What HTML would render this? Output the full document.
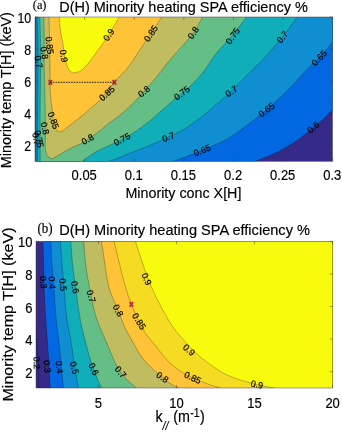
<!DOCTYPE html>
<html><head><meta charset="utf-8"><title>D(H) Minority heating SPA efficiency</title>
<style>html,body{margin:0;padding:0;background:#fff}svg{display:block}text{fill:#000;stroke:#000;stroke-width:0.16px}</style></head>
<body>
<svg width="342" height="432" viewBox="0 0 342 432">
<defs>
<clipPath id="ca"><rect x="35.0" y="17.0" width="297.7" height="144.5"/></clipPath>
<clipPath id="cb"><rect x="36.0" y="241.3" width="296.6" height="146.7"/></clipPath>
</defs>
<rect width="342" height="432" fill="#fff"/>
<g clip-path="url(#ca)">
<rect x="35.0" y="17.0" width="297.7" height="144.5" fill="rgb(53,42,135)"/>
<polygon points="35.0,17.0 332.7,17.0 332.7,109.5 331.9,110.4 331.1,111.3 330.2,112.1 329.4,113.0 328.6,113.9 327.7,114.8 326.9,115.6 326.0,116.5 325.2,117.3 324.3,118.2 323.4,119.0 322.5,119.8 321.6,120.6 320.7,121.4 319.8,122.2 318.9,123.0 317.9,123.7 317.0,124.5 316.1,125.3 315.1,126.0 314.2,126.8 313.3,127.5 312.3,128.3 311.4,129.1 310.5,129.9 309.5,130.6 308.6,131.4 307.7,132.2 306.8,132.9 305.8,133.7 304.9,134.5 304.0,135.2 303.0,136.0 302.1,136.7 301.1,137.5 300.1,138.2 299.2,138.9 298.2,139.6 297.2,140.3 296.2,141.0 295.2,141.7 294.2,142.4 293.2,143.0 292.2,143.7 291.2,144.3 290.1,145.0 289.1,145.6 288.1,146.2 287.0,146.8 286.0,147.4 284.9,148.0 283.9,148.6 282.8,149.2 281.8,149.8 280.7,150.4 279.6,150.9 278.6,151.5 277.5,152.0 276.4,152.5 275.3,153.1 274.2,153.6 273.1,154.1 272.0,154.6 270.9,155.1 269.8,155.5 268.7,156.0 267.6,156.5 266.5,156.9 265.3,157.4 264.2,157.8 263.1,158.2 262.0,158.7 260.8,159.1 259.7,159.5 258.6,159.9 257.4,160.3 256.3,160.7 255.1,161.1 254.0,161.5 35.0,161.5" fill="rgb(2,104,225)"/>
<polygon points="35.8,17.0 332.7,17.0 332.7,42.0 331.7,43.2 330.7,44.3 329.8,45.5 328.8,46.6 327.8,47.8 326.8,49.0 325.9,50.1 324.9,51.3 324.0,52.5 323.1,53.7 322.1,54.9 321.1,56.0 320.1,57.2 319.1,58.3 318.1,59.4 317.0,60.4 315.9,61.5 314.7,62.5 313.6,63.5 312.4,64.5 311.3,65.5 310.2,66.5 309.0,67.5 307.9,68.5 306.9,69.6 305.8,70.7 304.7,71.7 303.7,72.9 302.7,74.0 301.6,75.1 300.6,76.2 299.6,77.3 298.6,78.5 297.6,79.6 296.6,80.7 295.6,81.9 294.6,83.0 293.5,84.1 292.5,85.2 291.4,86.3 290.4,87.4 289.3,88.5 288.2,89.5 287.2,90.6 286.1,91.7 285.0,92.7 283.9,93.8 282.8,94.8 281.7,95.9 280.6,96.9 279.5,98.0 278.4,99.0 277.3,100.1 276.2,101.1 275.1,102.1 274.0,103.2 272.9,104.2 271.8,105.2 270.6,106.2 269.5,107.2 268.4,108.2 267.2,109.2 266.0,110.2 264.9,111.1 263.7,112.1 262.6,113.1 261.4,114.0 260.2,115.0 259.0,115.9 257.8,116.9 256.6,117.8 255.4,118.7 254.2,119.7 253.0,120.6 251.9,121.5 250.6,122.4 249.4,123.4 248.2,124.3 247.0,125.2 245.8,126.1 244.6,127.0 243.4,127.9 242.2,128.8 240.9,129.7 239.7,130.6 238.5,131.5 237.2,132.4 236.0,133.2 234.8,134.1 233.5,134.9 232.2,135.8 230.9,136.6 229.7,137.4 228.4,138.2 227.1,138.9 225.7,139.7 224.4,140.4 223.1,141.1 221.7,141.8 220.4,142.5 219.0,143.1 217.6,143.8 216.2,144.4 214.9,145.1 213.5,145.7 212.1,146.3 210.7,146.9 209.3,147.5 207.9,148.1 206.5,148.7 205.1,149.3 203.7,149.9 202.3,150.4 200.9,151.0 199.5,151.6 198.1,152.1 196.7,152.7 195.3,153.2 193.9,153.7 192.4,154.3 191.0,154.8 189.6,155.3 188.2,155.8 186.8,156.4 185.3,156.9 183.9,157.4 182.5,157.9 181.1,158.4 179.6,158.9 178.2,159.5 176.8,160.0 175.4,160.5 173.9,161.0 172.5,161.5 35.8,161.5" fill="rgb(16,142,210)"/>
<polygon points="297.5,17.0 296.6,18.2 295.7,19.4 294.8,20.6 293.9,21.8 293.0,23.0 292.1,24.2 291.2,25.4 290.3,26.7 289.4,27.9 288.5,29.1 287.6,30.3 286.7,31.5 285.8,32.7 284.9,33.9 283.9,35.1 283.0,36.3 282.1,37.5 281.1,38.7 280.1,39.8 279.2,41.0 278.2,42.1 277.2,43.3 276.2,44.4 275.3,45.6 274.3,46.7 273.3,47.9 272.3,49.0 271.3,50.1 270.3,51.3 269.3,52.4 268.3,53.5 267.3,54.6 266.3,55.8 265.2,56.9 264.2,58.0 263.2,59.1 262.1,60.1 261.0,61.2 260.0,62.3 258.9,63.4 257.8,64.4 256.8,65.5 255.7,66.5 254.6,67.6 253.5,68.6 252.4,69.7 251.4,70.8 250.3,71.8 249.2,72.9 248.1,73.9 247.0,75.0 246.0,76.0 244.9,77.1 243.8,78.2 242.8,79.2 241.7,80.3 240.6,81.4 239.6,82.5 238.6,83.6 237.5,84.6 236.5,85.8 235.4,86.9 234.4,88.0 233.4,89.1 232.3,90.1 231.3,91.2 230.2,92.3 229.1,93.3 228.0,94.3 226.9,95.4 225.8,96.4 224.6,97.3 223.5,98.3 222.3,99.3 221.2,100.3 220.0,101.3 218.9,102.3 217.7,103.2 216.6,104.2 215.4,105.2 214.3,106.2 213.2,107.2 212.0,108.2 210.9,109.2 209.8,110.2 208.6,111.2 207.5,112.1 206.3,113.1 205.1,114.1 204.0,115.0 202.8,116.0 201.6,116.9 200.4,117.8 199.2,118.7 198.0,119.6 196.8,120.5 195.5,121.4 194.3,122.3 193.1,123.2 191.9,124.0 190.6,124.9 189.4,125.8 188.1,126.6 186.9,127.4 185.6,128.2 184.3,129.0 183.0,129.8 181.7,130.5 180.4,131.3 179.0,132.0 177.7,132.7 176.3,133.3 175.0,134.0 173.6,134.6 172.3,135.3 170.9,135.9 169.5,136.6 168.2,137.2 166.8,137.9 165.4,138.5 164.1,139.2 162.7,139.8 161.3,140.4 160.0,141.1 158.6,141.7 157.2,142.3 155.8,142.9 154.4,143.5 153.0,144.1 151.6,144.6 150.2,145.2 148.8,145.8 147.4,146.4 146.0,146.9 144.6,147.5 143.2,148.1 141.8,148.6 140.4,149.2 139.0,149.7 137.6,150.3 136.2,150.8 134.8,151.3 133.4,151.9 132.0,152.4 130.6,153.0 129.2,153.5 127.8,154.1 126.4,154.6 125.0,155.2 123.6,155.8 122.2,156.4 120.8,157.0 119.4,157.5 118.0,158.1 116.6,158.7 115.2,159.2 113.8,159.7 112.3,160.1 110.9,160.6 109.4,161.1 108.0,161.5 37.7,161.5 37.7,160.0 37.7,158.5 37.7,156.9 37.7,155.4 37.7,153.9 37.6,152.4 37.6,150.9 37.6,149.3 37.6,147.8 37.6,146.3 37.6,144.8 37.6,143.2 37.6,141.7 37.6,140.2 37.6,138.7 37.6,137.2 37.6,135.6 37.6,134.1 37.6,132.6 37.6,131.1 37.6,129.6 37.6,128.0 37.6,126.5 37.6,125.0 37.6,123.5 37.6,121.9 37.6,120.4 37.6,118.9 37.6,117.4 37.6,115.9 37.6,114.3 37.6,112.8 37.6,111.3 37.6,109.8 37.6,108.3 37.6,106.7 37.6,105.2 37.7,103.7 37.7,102.2 37.7,100.6 37.7,99.1 37.7,97.6 37.8,96.1 37.8,94.6 37.8,93.0 37.8,91.5 37.8,90.0 37.9,88.5 37.9,87.0 37.9,85.4 37.9,83.9 38.0,82.4 38.0,80.9 38.0,79.3 38.0,77.8 38.1,76.3 38.1,74.8 38.1,73.3 38.1,71.7 38.1,70.2 38.2,68.7 38.2,67.2 38.2,65.7 38.2,64.1 38.2,62.6 38.2,61.1 38.2,59.6 38.2,58.0 38.2,56.5 38.2,55.0 38.2,53.5 38.2,52.0 38.2,50.4 38.2,48.9 38.1,47.4 38.1,45.9 38.1,44.4 38.0,42.8 38.0,41.3 38.0,39.8 37.9,38.3 37.9,36.8 37.8,35.2 37.8,33.7 37.7,32.2 37.6,30.7 37.6,29.2 37.5,27.6 37.4,26.1 37.4,24.6 37.3,23.1 37.2,21.6 37.1,20.0 37.1,18.5 37.0,17.0" fill="rgb(15,174,185)"/>
<polygon points="246.7,17.0 245.7,18.2 244.8,19.4 243.9,20.6 242.9,21.7 242.0,22.9 241.0,24.1 240.1,25.3 239.2,26.6 238.3,27.8 237.4,29.0 236.5,30.2 235.6,31.4 234.6,32.6 233.7,33.8 232.7,35.0 231.7,36.1 230.7,37.2 229.7,38.4 228.7,39.5 227.6,40.6 226.6,41.7 225.6,42.8 224.5,44.0 223.5,45.1 222.5,46.2 221.4,47.3 220.4,48.5 219.4,49.6 218.4,50.8 217.5,51.9 216.5,53.1 215.6,54.3 214.6,55.5 213.7,56.7 212.8,57.9 212.0,59.2 211.1,60.4 210.3,61.7 209.4,62.9 208.6,64.2 207.7,65.5 206.9,66.7 206.0,68.0 205.1,69.2 204.2,70.4 203.3,71.7 202.4,72.9 201.4,74.1 200.5,75.2 199.5,76.4 198.5,77.6 197.5,78.7 196.5,79.8 195.4,80.9 194.4,82.0 193.3,83.1 192.2,84.2 191.1,85.3 190.0,86.3 188.9,87.3 187.7,88.3 186.6,89.3 185.4,90.3 184.3,91.3 183.1,92.2 181.9,93.2 180.7,94.1 179.6,95.1 178.4,96.1 177.2,97.0 176.1,98.0 174.9,99.0 173.7,100.0 172.6,101.0 171.4,102.0 170.3,103.0 169.1,103.9 168.0,104.9 166.9,105.9 165.7,107.0 164.6,108.0 163.4,109.0 162.3,110.0 161.2,111.0 160.0,112.0 158.9,113.0 157.7,114.0 156.6,115.0 155.5,116.0 154.3,117.0 153.2,118.0 152.0,119.0 150.9,120.0 149.7,120.9 148.5,121.9 147.3,122.8 146.1,123.8 145.0,124.7 143.7,125.6 142.5,126.6 141.3,127.5 140.1,128.3 138.8,129.2 137.6,130.1 136.3,130.9 135.1,131.8 133.8,132.6 132.5,133.4 131.2,134.2 129.9,135.0 128.6,135.8 127.3,136.5 126.0,137.3 124.6,138.0 123.3,138.8 122.0,139.5 120.6,140.2 119.3,140.9 117.9,141.5 116.5,142.2 115.2,142.8 113.8,143.5 112.4,144.1 111.0,144.7 109.6,145.4 108.2,146.0 106.9,146.6 105.5,147.2 104.1,147.8 102.7,148.4 101.3,149.1 99.9,149.7 98.6,150.4 97.2,151.1 95.9,151.8 94.6,152.6 93.3,153.4 92.0,154.2 90.7,155.0 89.5,155.9 88.2,156.8 87.0,157.7 85.8,158.6 84.7,159.6 83.5,160.5 82.3,161.5 40.2,161.5 40.2,160.0 40.2,158.5 40.2,156.9 40.2,155.4 40.2,153.9 40.2,152.4 40.2,150.9 40.1,149.3 40.1,147.8 40.1,146.3 40.1,144.8 40.1,143.2 40.1,141.7 40.1,140.2 40.1,138.7 40.1,137.2 40.1,135.6 40.1,134.1 40.1,132.6 40.1,131.1 40.1,129.6 40.1,128.0 40.1,126.5 40.1,125.0 40.1,123.5 40.1,122.0 40.1,120.4 40.1,118.9 40.1,117.4 40.1,115.9 40.1,114.3 40.1,112.8 40.1,111.3 40.1,109.8 40.1,108.3 40.1,106.7 40.2,105.2 40.2,103.7 40.2,102.2 40.2,100.7 40.2,99.1 40.2,97.6 40.2,96.1 40.3,94.6 40.3,93.0 40.3,91.5 40.3,90.0 40.3,88.5 40.4,87.0 40.4,85.4 40.4,83.9 40.4,82.4 40.4,80.9 40.5,79.4 40.5,77.8 40.5,76.3 40.5,74.8 40.5,73.3 40.5,71.7 40.6,70.2 40.6,68.7 40.6,67.2 40.6,65.7 40.6,64.1 40.6,62.6 40.6,61.1 40.6,59.6 40.6,58.1 40.6,56.5 40.6,55.0 40.6,53.5 40.6,52.0 40.6,50.5 40.6,48.9 40.6,47.4 40.6,45.9 40.6,44.4 40.5,42.8 40.5,41.3 40.5,39.8 40.4,38.3 40.4,36.8 40.4,35.2 40.3,33.7 40.3,32.2 40.3,30.7 40.2,29.2 40.2,27.6 40.1,26.1 40.1,24.6 40.0,23.1 40.0,21.6 39.9,20.0 39.9,18.5 39.8,17.0" fill="rgb(101,190,134)"/>
<polygon points="202.7,17.0 202.0,18.3 201.3,19.7 200.6,21.0 199.8,22.4 199.1,23.7 198.4,25.0 197.6,26.4 196.8,27.7 196.0,29.0 195.2,30.2 194.4,31.5 193.5,32.8 192.6,34.0 191.7,35.2 190.8,36.4 189.8,37.6 188.8,38.7 187.8,39.9 186.8,41.0 185.8,42.2 184.8,43.3 183.8,44.4 182.8,45.6 181.8,46.7 180.7,47.8 179.7,48.9 178.7,50.1 177.7,51.2 176.6,52.3 175.6,53.4 174.6,54.6 173.6,55.7 172.6,56.9 171.6,58.0 170.7,59.2 169.7,60.4 168.7,61.6 167.8,62.7 166.9,63.9 165.9,65.1 165.0,66.3 164.1,67.5 163.1,68.7 162.2,69.9 161.2,71.1 160.3,72.3 159.3,73.5 158.4,74.7 157.4,75.8 156.5,77.0 155.5,78.2 154.5,79.3 153.5,80.5 152.6,81.7 151.6,82.8 150.6,84.0 149.6,85.1 148.6,86.3 147.6,87.4 146.6,88.6 145.6,89.7 144.6,90.9 143.6,92.0 142.5,93.1 141.5,94.3 140.5,95.4 139.5,96.5 138.4,97.6 137.4,98.8 136.3,99.9 135.3,101.0 134.2,102.1 133.2,103.2 132.1,104.2 131.0,105.3 129.9,106.4 128.8,107.4 127.7,108.5 126.6,109.5 125.5,110.5 124.3,111.5 123.2,112.5 122.0,113.5 120.8,114.4 119.6,115.4 118.4,116.3 117.2,117.2 116.0,118.1 114.8,119.0 113.5,119.9 112.3,120.8 111.1,121.7 109.8,122.6 108.6,123.5 107.5,124.5 106.3,125.4 105.1,126.4 103.9,127.3 102.7,128.3 101.6,129.3 100.4,130.2 99.2,131.1 98.0,132.1 96.8,133.0 95.5,133.9 94.3,134.8 93.1,135.7 91.8,136.5 90.6,137.4 89.4,138.3 88.1,139.2 86.9,140.1 85.6,140.9 84.4,141.8 83.1,142.6 81.7,143.3 80.4,144.0 79.0,144.6 77.6,145.2 76.2,145.8 74.8,146.4 73.4,147.0 72.0,147.7 70.7,148.3 69.3,149.0 68.0,149.7 66.6,150.4 65.3,151.2 64.0,151.9 62.7,152.7 61.4,153.5 60.1,154.3 58.8,155.1 57.5,155.9 56.2,156.7 54.8,157.4 53.5,158.1 52.1,158.7 52.1,158.7 50.6,158.2 49.2,157.6 48.1,156.6 47.1,155.4 46.4,154.0 46.0,152.6 45.6,151.1 45.4,149.6 45.3,148.1 45.2,146.6 45.2,145.0 45.3,143.5 45.3,142.0 45.4,140.4 45.4,138.9 45.5,137.4 45.5,135.8 45.5,134.3 45.5,132.8 45.4,131.3 45.4,129.8 45.4,128.2 45.4,126.7 45.4,125.2 45.4,123.7 45.3,122.1 45.3,120.6 45.3,119.1 45.3,117.6 45.3,116.0 45.3,114.5 45.3,113.0 45.2,111.5 45.2,109.9 45.2,108.4 45.2,106.9 45.2,105.4 45.1,103.8 45.1,102.3 45.0,100.8 45.0,99.3 45.0,97.8 44.9,96.2 44.9,94.7 44.8,93.2 44.8,91.7 44.7,90.1 44.7,88.6 44.7,87.1 44.6,85.6 44.6,84.0 44.5,82.5 44.5,81.0 44.5,79.5 44.4,78.0 44.4,76.4 44.4,74.9 44.3,73.4 44.3,71.9 44.3,70.3 44.2,68.8 44.2,67.3 44.2,65.8 44.2,64.2 44.2,62.7 44.2,61.2 44.2,59.7 44.2,58.1 44.2,56.6 44.2,55.1 44.2,53.6 44.3,52.0 44.3,50.5 44.3,49.0 44.3,47.5 44.3,45.9 44.3,44.4 44.3,42.9 44.3,41.4 44.3,39.9 44.3,38.3 44.2,36.8 44.2,35.3 44.2,33.8 44.1,32.2 44.1,30.7 44.1,29.2 44.0,27.7 44.0,26.1 43.9,24.6 43.8,23.1 43.8,21.6 43.7,20.0 43.7,18.5 43.6,17.0" fill="rgb(192,188,96)"/>
<polygon points="161.6,17.0 160.8,18.3 160.0,19.6 159.2,20.8 158.4,22.1 157.6,23.4 156.8,24.7 156.0,25.9 155.2,27.2 154.4,28.5 153.6,29.7 152.7,31.0 151.9,32.3 151.1,33.5 150.2,34.7 149.4,36.0 148.5,37.2 147.6,38.5 146.8,39.7 145.9,40.9 145.0,42.2 144.2,43.4 143.3,44.6 142.5,45.9 141.6,47.1 140.8,48.3 139.9,49.6 139.1,50.9 138.3,52.1 137.5,53.4 136.6,54.7 135.8,56.0 135.0,57.2 134.2,58.5 133.4,59.8 132.6,61.0 131.7,62.3 130.9,63.5 130.0,64.7 129.1,66.0 128.2,67.1 127.2,68.3 126.3,69.4 125.3,70.6 124.3,71.7 123.2,72.8 122.2,73.9 121.1,75.0 120.1,76.0 119.0,77.1 118.0,78.2 117.0,79.3 115.9,80.4 114.9,81.5 114.0,82.7 113.0,83.9 112.1,85.1 111.2,86.3 110.3,87.5 109.4,88.7 108.5,89.9 107.6,91.1 106.7,92.3 105.7,93.5 104.8,94.7 103.8,95.8 102.9,97.0 101.8,98.1 100.8,99.2 99.8,100.2 98.7,101.3 97.6,102.3 96.4,103.3 95.3,104.3 94.2,105.3 93.0,106.3 91.9,107.2 90.7,108.2 89.6,109.2 88.5,110.2 87.3,111.2 86.2,112.2 85.1,113.2 83.9,114.2 82.8,115.2 81.6,116.1 80.5,117.1 79.3,118.0 78.1,118.9 76.9,119.9 75.7,120.8 74.5,121.7 73.3,122.6 72.1,123.6 71.0,124.5 69.8,125.4 68.6,126.4 67.4,127.3 66.3,128.3 65.1,129.2 63.9,130.2 62.6,130.9 61.2,131.5 59.8,132.0 59.8,132.0 58.3,131.4 57.1,130.6 56.2,129.4 55.5,128.0 54.9,126.5 54.4,125.1 54.0,123.6 53.6,122.2 53.3,120.7 53.1,119.2 52.9,117.7 52.8,116.1 52.7,114.6 52.6,113.1 52.4,111.6 52.3,110.0 52.1,108.5 51.9,107.0 51.7,105.5 51.5,104.0 51.3,102.4 51.1,100.9 50.9,99.4 50.8,97.9 50.6,96.4 50.5,94.9 50.4,93.3 50.4,91.8 50.3,90.3 50.2,88.8 50.2,87.2 50.2,85.7 50.1,84.2 50.1,82.6 50.1,81.1 50.1,79.6 50.0,78.1 50.0,76.5 50.0,75.0 50.0,73.5 50.0,71.9 50.0,70.4 49.9,68.9 49.9,67.4 49.9,65.8 49.9,64.3 49.9,62.8 49.9,61.3 49.8,59.7 49.8,58.2 49.8,56.7 49.8,55.2 49.8,53.6 49.8,52.1 49.7,50.6 49.7,49.1 49.7,47.5 49.7,46.0 49.7,44.5 49.6,42.9 49.6,41.4 49.6,39.9 49.5,38.4 49.5,36.8 49.5,35.3 49.4,33.8 49.4,32.3 49.4,30.7 49.3,29.2 49.3,27.7 49.3,26.2 49.2,24.6 49.2,23.1 49.1,21.6 49.1,20.1 49.0,18.5 49.0,17.0" fill="rgb(255,195,55)"/>
<polygon points="118.9,17.0 118.5,17.7 118.2,18.4 117.8,19.1 117.4,19.7 117.1,20.4 116.7,21.1 116.3,21.8 116.0,22.5 115.6,23.2 115.2,23.8 114.8,24.5 114.5,25.2 114.1,25.9 113.7,26.5 113.3,27.2 112.9,27.9 112.5,28.5 112.1,29.2 111.7,29.9 111.3,30.5 110.9,31.2 110.5,31.8 110.0,32.5 109.6,33.2 109.2,33.8 108.8,34.5 108.4,35.1 108.0,35.8 107.6,36.5 107.2,37.1 106.7,37.8 106.3,38.4 105.9,39.1 105.5,39.7 105.0,40.4 104.6,41.0 104.2,41.7 103.7,42.3 103.3,42.9 102.8,43.5 102.3,44.2 101.9,44.8 101.4,45.4 101.0,46.0 100.5,46.7 100.0,47.3 99.6,47.9 99.1,48.5 98.7,49.2 98.2,49.8 97.7,50.4 97.3,51.1 96.8,51.7 96.4,52.3 95.9,52.9 95.5,53.6 95.0,54.2 94.6,54.8 94.1,55.5 93.6,56.1 93.2,56.7 92.7,57.4 92.3,58.0 91.8,58.6 91.4,59.2 90.9,59.9 90.4,60.5 90.0,61.1 89.5,61.7 89.0,62.3 88.5,62.9 88.1,63.5 87.6,64.1 87.1,64.7 86.5,65.3 86.0,65.9 85.5,66.5 85.0,67.0 84.4,67.6 83.9,68.1 83.3,68.7 82.7,69.2 82.1,69.7 81.5,70.2 80.9,70.6 80.2,71.0 79.5,71.4 78.8,71.7 78.1,72.0 77.3,72.2 76.6,72.4 75.8,72.6 75.0,72.7 74.3,72.8 73.5,72.9 73.5,72.9 72.6,72.6 71.7,72.2 70.9,71.8 70.2,71.2 69.5,70.5 69.0,69.7 68.5,68.9 68.1,68.0 67.7,67.2 67.3,66.3 67.0,65.4 66.7,64.5 66.4,63.6 66.2,62.7 65.9,61.8 65.7,60.9 65.5,59.9 65.3,59.0 65.1,58.1 64.9,57.2 64.7,56.3 64.5,55.3 64.4,54.4 64.2,53.5 64.1,52.5 63.9,51.6 63.8,50.7 63.7,49.7 63.6,48.8 63.4,47.8 63.3,46.9 63.2,46.0 63.1,45.0 62.9,44.1 62.8,43.2 62.7,42.2 62.5,41.3 62.4,40.4 62.2,39.4 62.0,38.5 61.8,37.6 61.7,36.7 61.5,35.7 61.3,34.8 61.1,33.9 60.9,33.0 60.7,32.0 60.6,31.1 60.4,30.2 60.3,29.2 60.2,28.3 60.1,27.4 60.0,26.4 59.9,25.5 59.8,24.6 59.8,23.6 59.7,22.7 59.7,21.7 59.6,20.8 59.6,19.8 59.6,18.9 59.5,17.9 59.5,17.0" fill="rgb(249,251,14)"/>
<polyline points="332.7,109.5 331.9,110.4 331.1,111.3 330.2,112.1 329.4,113.0 328.6,113.9 327.7,114.8 326.9,115.6 326.0,116.5 325.2,117.3 324.3,118.2 323.4,119.0 322.5,119.8 321.6,120.6 320.7,121.4 319.8,122.2 318.9,123.0 317.9,123.7 317.0,124.5 316.1,125.3 315.1,126.0 314.2,126.8 313.3,127.5 312.3,128.3 311.4,129.1 310.5,129.9 309.5,130.6 308.6,131.4 307.7,132.2 306.8,132.9 305.8,133.7 304.9,134.5 304.0,135.2 303.0,136.0 302.1,136.7 301.1,137.5 300.1,138.2 299.2,138.9 298.2,139.6 297.2,140.3 296.2,141.0 295.2,141.7 294.2,142.4 293.2,143.0 292.2,143.7 291.2,144.3 290.1,145.0 289.1,145.6 288.1,146.2 287.0,146.8 286.0,147.4 284.9,148.0 283.9,148.6 282.8,149.2 281.8,149.8 280.7,150.4 279.6,150.9 278.6,151.5 277.5,152.0 276.4,152.5 275.3,153.1 274.2,153.6 273.1,154.1 272.0,154.6 270.9,155.1 269.8,155.5 268.7,156.0 267.6,156.5 266.5,156.9 265.3,157.4 264.2,157.8 263.1,158.2 262.0,158.7 260.8,159.1 259.7,159.5 258.6,159.9 257.4,160.3 256.3,160.7 255.1,161.1 254.0,161.5" fill="none" stroke="rgba(0,0,0,0.5)" stroke-width="0.5"/>
<polyline points="332.7,42.0 331.7,43.2 330.7,44.3 329.8,45.5 328.8,46.6 327.8,47.8 326.8,49.0 325.9,50.1 324.9,51.3 324.0,52.5 323.1,53.7 322.1,54.9 321.1,56.0 320.1,57.2 319.1,58.3 318.1,59.4 317.0,60.4 315.9,61.5 314.7,62.5 313.6,63.5 312.4,64.5 311.3,65.5 310.2,66.5 309.0,67.5 307.9,68.5 306.9,69.6 305.8,70.7 304.7,71.7 303.7,72.9 302.7,74.0 301.6,75.1 300.6,76.2 299.6,77.3 298.6,78.5 297.6,79.6 296.6,80.7 295.6,81.9 294.6,83.0 293.5,84.1 292.5,85.2 291.4,86.3 290.4,87.4 289.3,88.5 288.2,89.5 287.2,90.6 286.1,91.7 285.0,92.7 283.9,93.8 282.8,94.8 281.7,95.9 280.6,96.9 279.5,98.0 278.4,99.0 277.3,100.1 276.2,101.1 275.1,102.1 274.0,103.2 272.9,104.2 271.8,105.2 270.6,106.2 269.5,107.2 268.4,108.2 267.2,109.2 266.0,110.2 264.9,111.1 263.7,112.1 262.6,113.1 261.4,114.0 260.2,115.0 259.0,115.9 257.8,116.9 256.6,117.8 255.4,118.7 254.2,119.7 253.0,120.6 251.9,121.5 250.6,122.4 249.4,123.4 248.2,124.3 247.0,125.2 245.8,126.1 244.6,127.0 243.4,127.9 242.2,128.8 240.9,129.7 239.7,130.6 238.5,131.5 237.2,132.4 236.0,133.2 234.8,134.1 233.5,134.9 232.2,135.8 230.9,136.6 229.7,137.4 228.4,138.2 227.1,138.9 225.7,139.7 224.4,140.4 223.1,141.1 221.7,141.8 220.4,142.5 219.0,143.1 217.6,143.8 216.2,144.4 214.9,145.1 213.5,145.7 212.1,146.3 210.7,146.9 209.3,147.5 207.9,148.1 206.5,148.7 205.1,149.3 203.7,149.9 202.3,150.4 200.9,151.0 199.5,151.6 198.1,152.1 196.7,152.7 195.3,153.2 193.9,153.7 192.4,154.3 191.0,154.8 189.6,155.3 188.2,155.8 186.8,156.4 185.3,156.9 183.9,157.4 182.5,157.9 181.1,158.4 179.6,158.9 178.2,159.5 176.8,160.0 175.4,160.5 173.9,161.0 172.5,161.5" fill="none" stroke="rgba(0,0,0,0.5)" stroke-width="0.5"/>
<polyline points="297.5,17.0 296.6,18.2 295.7,19.4 294.8,20.6 293.9,21.8 293.0,23.0 292.1,24.2 291.2,25.4 290.3,26.7 289.4,27.9 288.5,29.1 287.6,30.3 286.7,31.5 285.8,32.7 284.9,33.9 283.9,35.1 283.0,36.3 282.1,37.5 281.1,38.7 280.1,39.8 279.2,41.0 278.2,42.1 277.2,43.3 276.2,44.4 275.3,45.6 274.3,46.7 273.3,47.9 272.3,49.0 271.3,50.1 270.3,51.3 269.3,52.4 268.3,53.5 267.3,54.6 266.3,55.8 265.2,56.9 264.2,58.0 263.2,59.1 262.1,60.1 261.0,61.2 260.0,62.3 258.9,63.4 257.8,64.4 256.8,65.5 255.7,66.5 254.6,67.6 253.5,68.6 252.4,69.7 251.4,70.8 250.3,71.8 249.2,72.9 248.1,73.9 247.0,75.0 246.0,76.0 244.9,77.1 243.8,78.2 242.8,79.2 241.7,80.3 240.6,81.4 239.6,82.5 238.6,83.6 237.5,84.6 236.5,85.8 235.4,86.9 234.4,88.0 233.4,89.1 232.3,90.1 231.3,91.2 230.2,92.3 229.1,93.3 228.0,94.3 226.9,95.4 225.8,96.4 224.6,97.3 223.5,98.3 222.3,99.3 221.2,100.3 220.0,101.3 218.9,102.3 217.7,103.2 216.6,104.2 215.4,105.2 214.3,106.2 213.2,107.2 212.0,108.2 210.9,109.2 209.8,110.2 208.6,111.2 207.5,112.1 206.3,113.1 205.1,114.1 204.0,115.0 202.8,116.0 201.6,116.9 200.4,117.8 199.2,118.7 198.0,119.6 196.8,120.5 195.5,121.4 194.3,122.3 193.1,123.2 191.9,124.0 190.6,124.9 189.4,125.8 188.1,126.6 186.9,127.4 185.6,128.2 184.3,129.0 183.0,129.8 181.7,130.5 180.4,131.3 179.0,132.0 177.7,132.7 176.3,133.3 175.0,134.0 173.6,134.6 172.3,135.3 170.9,135.9 169.5,136.6 168.2,137.2 166.8,137.9 165.4,138.5 164.1,139.2 162.7,139.8 161.3,140.4 160.0,141.1 158.6,141.7 157.2,142.3 155.8,142.9 154.4,143.5 153.0,144.1 151.6,144.6 150.2,145.2 148.8,145.8 147.4,146.4 146.0,146.9 144.6,147.5 143.2,148.1 141.8,148.6 140.4,149.2 139.0,149.7 137.6,150.3 136.2,150.8 134.8,151.3 133.4,151.9 132.0,152.4 130.6,153.0 129.2,153.5 127.8,154.1 126.4,154.6 125.0,155.2 123.6,155.8 122.2,156.4 120.8,157.0 119.4,157.5 118.0,158.1 116.6,158.7 115.2,159.2 113.8,159.7 112.3,160.1 110.9,160.6 109.4,161.1 108.0,161.5" fill="none" stroke="rgba(0,0,0,0.5)" stroke-width="0.5"/>
<polyline points="246.7,17.0 245.7,18.2 244.8,19.4 243.9,20.6 242.9,21.7 242.0,22.9 241.0,24.1 240.1,25.3 239.2,26.6 238.3,27.8 237.4,29.0 236.5,30.2 235.6,31.4 234.6,32.6 233.7,33.8 232.7,35.0 231.7,36.1 230.7,37.2 229.7,38.4 228.7,39.5 227.6,40.6 226.6,41.7 225.6,42.8 224.5,44.0 223.5,45.1 222.5,46.2 221.4,47.3 220.4,48.5 219.4,49.6 218.4,50.8 217.5,51.9 216.5,53.1 215.6,54.3 214.6,55.5 213.7,56.7 212.8,57.9 212.0,59.2 211.1,60.4 210.3,61.7 209.4,62.9 208.6,64.2 207.7,65.5 206.9,66.7 206.0,68.0 205.1,69.2 204.2,70.4 203.3,71.7 202.4,72.9 201.4,74.1 200.5,75.2 199.5,76.4 198.5,77.6 197.5,78.7 196.5,79.8 195.4,80.9 194.4,82.0 193.3,83.1 192.2,84.2 191.1,85.3 190.0,86.3 188.9,87.3 187.7,88.3 186.6,89.3 185.4,90.3 184.3,91.3 183.1,92.2 181.9,93.2 180.7,94.1 179.6,95.1 178.4,96.1 177.2,97.0 176.1,98.0 174.9,99.0 173.7,100.0 172.6,101.0 171.4,102.0 170.3,103.0 169.1,103.9 168.0,104.9 166.9,105.9 165.7,107.0 164.6,108.0 163.4,109.0 162.3,110.0 161.2,111.0 160.0,112.0 158.9,113.0 157.7,114.0 156.6,115.0 155.5,116.0 154.3,117.0 153.2,118.0 152.0,119.0 150.9,120.0 149.7,120.9 148.5,121.9 147.3,122.8 146.1,123.8 145.0,124.7 143.7,125.6 142.5,126.6 141.3,127.5 140.1,128.3 138.8,129.2 137.6,130.1 136.3,130.9 135.1,131.8 133.8,132.6 132.5,133.4 131.2,134.2 129.9,135.0 128.6,135.8 127.3,136.5 126.0,137.3 124.6,138.0 123.3,138.8 122.0,139.5 120.6,140.2 119.3,140.9 117.9,141.5 116.5,142.2 115.2,142.8 113.8,143.5 112.4,144.1 111.0,144.7 109.6,145.4 108.2,146.0 106.9,146.6 105.5,147.2 104.1,147.8 102.7,148.4 101.3,149.1 99.9,149.7 98.6,150.4 97.2,151.1 95.9,151.8 94.6,152.6 93.3,153.4 92.0,154.2 90.7,155.0 89.5,155.9 88.2,156.8 87.0,157.7 85.8,158.6 84.7,159.6 83.5,160.5 82.3,161.5" fill="none" stroke="rgba(0,0,0,0.5)" stroke-width="0.5"/>
<polyline points="37.7,161.5 37.7,160.0 37.7,158.5 37.7,156.9 37.7,155.4 37.7,153.9 37.6,152.4 37.6,150.9 37.6,149.3 37.6,147.8 37.6,146.3 37.6,144.8 37.6,143.2 37.6,141.7 37.6,140.2 37.6,138.7 37.6,137.2 37.6,135.6 37.6,134.1 37.6,132.6 37.6,131.1 37.6,129.6 37.6,128.0 37.6,126.5 37.6,125.0 37.6,123.5 37.6,121.9 37.6,120.4 37.6,118.9 37.6,117.4 37.6,115.9 37.6,114.3 37.6,112.8 37.6,111.3 37.6,109.8 37.6,108.3 37.6,106.7 37.6,105.2 37.7,103.7 37.7,102.2 37.7,100.6 37.7,99.1 37.7,97.6 37.8,96.1 37.8,94.6 37.8,93.0 37.8,91.5 37.8,90.0 37.9,88.5 37.9,87.0 37.9,85.4 37.9,83.9 38.0,82.4 38.0,80.9 38.0,79.3 38.0,77.8 38.1,76.3 38.1,74.8 38.1,73.3 38.1,71.7 38.1,70.2 38.2,68.7 38.2,67.2 38.2,65.7 38.2,64.1 38.2,62.6 38.2,61.1 38.2,59.6 38.2,58.0 38.2,56.5 38.2,55.0 38.2,53.5 38.2,52.0 38.2,50.4 38.2,48.9 38.1,47.4 38.1,45.9 38.1,44.4 38.0,42.8 38.0,41.3 38.0,39.8 37.9,38.3 37.9,36.8 37.8,35.2 37.8,33.7 37.7,32.2 37.6,30.7 37.6,29.2 37.5,27.6 37.4,26.1 37.4,24.6 37.3,23.1 37.2,21.6 37.1,20.0 37.1,18.5 37.0,17.0" fill="none" stroke="rgba(0,0,0,0.5)" stroke-width="0.5"/>
<polyline points="40.2,161.5 40.2,160.0 40.2,158.5 40.2,156.9 40.2,155.4 40.2,153.9 40.2,152.4 40.2,150.9 40.1,149.3 40.1,147.8 40.1,146.3 40.1,144.8 40.1,143.2 40.1,141.7 40.1,140.2 40.1,138.7 40.1,137.2 40.1,135.6 40.1,134.1 40.1,132.6 40.1,131.1 40.1,129.6 40.1,128.0 40.1,126.5 40.1,125.0 40.1,123.5 40.1,122.0 40.1,120.4 40.1,118.9 40.1,117.4 40.1,115.9 40.1,114.3 40.1,112.8 40.1,111.3 40.1,109.8 40.1,108.3 40.1,106.7 40.2,105.2 40.2,103.7 40.2,102.2 40.2,100.7 40.2,99.1 40.2,97.6 40.2,96.1 40.3,94.6 40.3,93.0 40.3,91.5 40.3,90.0 40.3,88.5 40.4,87.0 40.4,85.4 40.4,83.9 40.4,82.4 40.4,80.9 40.5,79.4 40.5,77.8 40.5,76.3 40.5,74.8 40.5,73.3 40.5,71.7 40.6,70.2 40.6,68.7 40.6,67.2 40.6,65.7 40.6,64.1 40.6,62.6 40.6,61.1 40.6,59.6 40.6,58.1 40.6,56.5 40.6,55.0 40.6,53.5 40.6,52.0 40.6,50.5 40.6,48.9 40.6,47.4 40.6,45.9 40.6,44.4 40.5,42.8 40.5,41.3 40.5,39.8 40.4,38.3 40.4,36.8 40.4,35.2 40.3,33.7 40.3,32.2 40.3,30.7 40.2,29.2 40.2,27.6 40.1,26.1 40.1,24.6 40.0,23.1 40.0,21.6 39.9,20.0 39.9,18.5 39.8,17.0" fill="none" stroke="rgba(0,0,0,0.5)" stroke-width="0.5"/>
<polyline points="35.4,17.0 35.4,161.5" fill="none" stroke="rgba(0,0,0,0.35)" stroke-width="0.5"/>
<polyline points="36.3,17.0 36.5,161.5" fill="none" stroke="rgba(0,0,0,0.35)" stroke-width="0.5"/>
<polyline points="202.7,17.0 202.0,18.3 201.3,19.7 200.6,21.0 199.8,22.4 199.1,23.7 198.4,25.0 197.6,26.4 196.8,27.7 196.0,29.0 195.2,30.2 194.4,31.5 193.5,32.8 192.6,34.0 191.7,35.2 190.8,36.4 189.8,37.6 188.8,38.7 187.8,39.9 186.8,41.0 185.8,42.2 184.8,43.3 183.8,44.4 182.8,45.6 181.8,46.7 180.7,47.8 179.7,48.9 178.7,50.1 177.7,51.2 176.6,52.3 175.6,53.4 174.6,54.6 173.6,55.7 172.6,56.9 171.6,58.0 170.7,59.2 169.7,60.4 168.7,61.6 167.8,62.7 166.9,63.9 165.9,65.1 165.0,66.3 164.1,67.5 163.1,68.7 162.2,69.9 161.2,71.1 160.3,72.3 159.3,73.5 158.4,74.7 157.4,75.8 156.5,77.0 155.5,78.2 154.5,79.3 153.5,80.5 152.6,81.7 151.6,82.8 150.6,84.0 149.6,85.1 148.6,86.3 147.6,87.4 146.6,88.6 145.6,89.7 144.6,90.9 143.6,92.0 142.5,93.1 141.5,94.3 140.5,95.4 139.5,96.5 138.4,97.6 137.4,98.8 136.3,99.9 135.3,101.0 134.2,102.1 133.2,103.2 132.1,104.2 131.0,105.3 129.9,106.4 128.8,107.4 127.7,108.5 126.6,109.5 125.5,110.5 124.3,111.5 123.2,112.5 122.0,113.5 120.8,114.4 119.6,115.4 118.4,116.3 117.2,117.2 116.0,118.1 114.8,119.0 113.5,119.9 112.3,120.8 111.1,121.7 109.8,122.6 108.6,123.5 107.5,124.5 106.3,125.4 105.1,126.4 103.9,127.3 102.7,128.3 101.6,129.3 100.4,130.2 99.2,131.1 98.0,132.1 96.8,133.0 95.5,133.9 94.3,134.8 93.1,135.7 91.8,136.5 90.6,137.4 89.4,138.3 88.1,139.2 86.9,140.1 85.6,140.9 84.4,141.8 83.1,142.6 81.7,143.3 80.4,144.0 79.0,144.6 77.6,145.2 76.2,145.8 74.8,146.4 73.4,147.0 72.0,147.7 70.7,148.3 69.3,149.0 68.0,149.7 66.6,150.4 65.3,151.2 64.0,151.9 62.7,152.7 61.4,153.5 60.1,154.3 58.8,155.1 57.5,155.9 56.2,156.7 54.8,157.4 53.5,158.1 52.1,158.7 52.1,158.7 50.6,158.2 49.2,157.6 48.1,156.6 47.1,155.4 46.4,154.0 46.0,152.6 45.6,151.1 45.4,149.6 45.3,148.1 45.2,146.6 45.2,145.0 45.3,143.5 45.3,142.0 45.4,140.4 45.4,138.9 45.5,137.4 45.5,135.8 45.5,134.3 45.5,132.8 45.4,131.3 45.4,129.8 45.4,128.2 45.4,126.7 45.4,125.2 45.4,123.7 45.3,122.1 45.3,120.6 45.3,119.1 45.3,117.6 45.3,116.0 45.3,114.5 45.3,113.0 45.2,111.5 45.2,109.9 45.2,108.4 45.2,106.9 45.2,105.4 45.1,103.8 45.1,102.3 45.0,100.8 45.0,99.3 45.0,97.8 44.9,96.2 44.9,94.7 44.8,93.2 44.8,91.7 44.7,90.1 44.7,88.6 44.7,87.1 44.6,85.6 44.6,84.0 44.5,82.5 44.5,81.0 44.5,79.5 44.4,78.0 44.4,76.4 44.4,74.9 44.3,73.4 44.3,71.9 44.3,70.3 44.2,68.8 44.2,67.3 44.2,65.8 44.2,64.2 44.2,62.7 44.2,61.2 44.2,59.7 44.2,58.1 44.2,56.6 44.2,55.1 44.2,53.6 44.3,52.0 44.3,50.5 44.3,49.0 44.3,47.5 44.3,45.9 44.3,44.4 44.3,42.9 44.3,41.4 44.3,39.9 44.3,38.3 44.2,36.8 44.2,35.3 44.2,33.8 44.1,32.2 44.1,30.7 44.1,29.2 44.0,27.7 44.0,26.1 43.9,24.6 43.8,23.1 43.8,21.6 43.7,20.0 43.7,18.5 43.6,17.0" fill="none" stroke="rgba(0,0,0,0.5)" stroke-width="0.5"/>
<polyline points="161.6,17.0 160.8,18.3 160.0,19.6 159.2,20.8 158.4,22.1 157.6,23.4 156.8,24.7 156.0,25.9 155.2,27.2 154.4,28.5 153.6,29.7 152.7,31.0 151.9,32.3 151.1,33.5 150.2,34.7 149.4,36.0 148.5,37.2 147.6,38.5 146.8,39.7 145.9,40.9 145.0,42.2 144.2,43.4 143.3,44.6 142.5,45.9 141.6,47.1 140.8,48.3 139.9,49.6 139.1,50.9 138.3,52.1 137.5,53.4 136.6,54.7 135.8,56.0 135.0,57.2 134.2,58.5 133.4,59.8 132.6,61.0 131.7,62.3 130.9,63.5 130.0,64.7 129.1,66.0 128.2,67.1 127.2,68.3 126.3,69.4 125.3,70.6 124.3,71.7 123.2,72.8 122.2,73.9 121.1,75.0 120.1,76.0 119.0,77.1 118.0,78.2 117.0,79.3 115.9,80.4 114.9,81.5 114.0,82.7 113.0,83.9 112.1,85.1 111.2,86.3 110.3,87.5 109.4,88.7 108.5,89.9 107.6,91.1 106.7,92.3 105.7,93.5 104.8,94.7 103.8,95.8 102.9,97.0 101.8,98.1 100.8,99.2 99.8,100.2 98.7,101.3 97.6,102.3 96.4,103.3 95.3,104.3 94.2,105.3 93.0,106.3 91.9,107.2 90.7,108.2 89.6,109.2 88.5,110.2 87.3,111.2 86.2,112.2 85.1,113.2 83.9,114.2 82.8,115.2 81.6,116.1 80.5,117.1 79.3,118.0 78.1,118.9 76.9,119.9 75.7,120.8 74.5,121.7 73.3,122.6 72.1,123.6 71.0,124.5 69.8,125.4 68.6,126.4 67.4,127.3 66.3,128.3 65.1,129.2 63.9,130.2 62.6,130.9 61.2,131.5 59.8,132.0 59.8,132.0 58.3,131.4 57.1,130.6 56.2,129.4 55.5,128.0 54.9,126.5 54.4,125.1 54.0,123.6 53.6,122.2 53.3,120.7 53.1,119.2 52.9,117.7 52.8,116.1 52.7,114.6 52.6,113.1 52.4,111.6 52.3,110.0 52.1,108.5 51.9,107.0 51.7,105.5 51.5,104.0 51.3,102.4 51.1,100.9 50.9,99.4 50.8,97.9 50.6,96.4 50.5,94.9 50.4,93.3 50.4,91.8 50.3,90.3 50.2,88.8 50.2,87.2 50.2,85.7 50.1,84.2 50.1,82.6 50.1,81.1 50.1,79.6 50.0,78.1 50.0,76.5 50.0,75.0 50.0,73.5 50.0,71.9 50.0,70.4 49.9,68.9 49.9,67.4 49.9,65.8 49.9,64.3 49.9,62.8 49.9,61.3 49.8,59.7 49.8,58.2 49.8,56.7 49.8,55.2 49.8,53.6 49.8,52.1 49.7,50.6 49.7,49.1 49.7,47.5 49.7,46.0 49.7,44.5 49.6,42.9 49.6,41.4 49.6,39.9 49.5,38.4 49.5,36.8 49.5,35.3 49.4,33.8 49.4,32.3 49.4,30.7 49.3,29.2 49.3,27.7 49.3,26.2 49.2,24.6 49.2,23.1 49.1,21.6 49.1,20.1 49.0,18.5 49.0,17.0" fill="none" stroke="rgba(0,0,0,0.5)" stroke-width="0.5"/>
<polyline points="118.9,17.0 118.5,17.7 118.2,18.4 117.8,19.1 117.4,19.7 117.1,20.4 116.7,21.1 116.3,21.8 116.0,22.5 115.6,23.2 115.2,23.8 114.8,24.5 114.5,25.2 114.1,25.9 113.7,26.5 113.3,27.2 112.9,27.9 112.5,28.5 112.1,29.2 111.7,29.9 111.3,30.5 110.9,31.2 110.5,31.8 110.0,32.5 109.6,33.2 109.2,33.8 108.8,34.5 108.4,35.1 108.0,35.8 107.6,36.5 107.2,37.1 106.7,37.8 106.3,38.4 105.9,39.1 105.5,39.7 105.0,40.4 104.6,41.0 104.2,41.7 103.7,42.3 103.3,42.9 102.8,43.5 102.3,44.2 101.9,44.8 101.4,45.4 101.0,46.0 100.5,46.7 100.0,47.3 99.6,47.9 99.1,48.5 98.7,49.2 98.2,49.8 97.7,50.4 97.3,51.1 96.8,51.7 96.4,52.3 95.9,52.9 95.5,53.6 95.0,54.2 94.6,54.8 94.1,55.5 93.6,56.1 93.2,56.7 92.7,57.4 92.3,58.0 91.8,58.6 91.4,59.2 90.9,59.9 90.4,60.5 90.0,61.1 89.5,61.7 89.0,62.3 88.5,62.9 88.1,63.5 87.6,64.1 87.1,64.7 86.5,65.3 86.0,65.9 85.5,66.5 85.0,67.0 84.4,67.6 83.9,68.1 83.3,68.7 82.7,69.2 82.1,69.7 81.5,70.2 80.9,70.6 80.2,71.0 79.5,71.4 78.8,71.7 78.1,72.0 77.3,72.2 76.6,72.4 75.8,72.6 75.0,72.7 74.3,72.8 73.5,72.9 73.5,72.9 72.6,72.6 71.7,72.2 70.9,71.8 70.2,71.2 69.5,70.5 69.0,69.7 68.5,68.9 68.1,68.0 67.7,67.2 67.3,66.3 67.0,65.4 66.7,64.5 66.4,63.6 66.2,62.7 65.9,61.8 65.7,60.9 65.5,59.9 65.3,59.0 65.1,58.1 64.9,57.2 64.7,56.3 64.5,55.3 64.4,54.4 64.2,53.5 64.1,52.5 63.9,51.6 63.8,50.7 63.7,49.7 63.6,48.8 63.4,47.8 63.3,46.9 63.2,46.0 63.1,45.0 62.9,44.1 62.8,43.2 62.7,42.2 62.5,41.3 62.4,40.4 62.2,39.4 62.0,38.5 61.8,37.6 61.7,36.7 61.5,35.7 61.3,34.8 61.1,33.9 60.9,33.0 60.7,32.0 60.6,31.1 60.4,30.2 60.3,29.2 60.2,28.3 60.1,27.4 60.0,26.4 59.9,25.5 59.8,24.6 59.8,23.6 59.7,22.7 59.7,21.7 59.6,20.8 59.6,19.8 59.6,18.9 59.5,17.9 59.5,17.0" fill="none" stroke="rgba(0,0,0,0.5)" stroke-width="0.5"/>
</g>
<g clip-path="url(#cb)">
<rect x="36.0" y="241.3" width="296.6" height="146.7" fill="rgb(53,42,135)"/>
<polygon points="36.0,330.0 36.1,331.6 36.2,333.1 36.3,334.7 36.4,336.3 36.5,337.8 36.6,339.4 36.7,341.0 36.8,342.5 36.9,344.1 37.0,345.7 37.0,347.2 37.1,348.8 37.2,350.4 37.3,351.9 37.4,353.5 37.5,355.1 37.6,356.6 37.6,358.2 37.7,359.8 37.8,361.3 37.9,362.9 37.9,364.5 38.0,366.0 38.1,367.6 38.2,369.2 38.2,370.8 38.3,372.3 38.4,373.9 38.4,375.5 38.5,377.0 38.6,378.6 38.7,380.2 38.7,381.7 38.8,383.3 38.9,384.9 38.9,386.4 39.0,388.0 36.0,388.0" fill="rgb(53,42,135)"/>
<polygon points="42.8,240.5 42.9,242.0 42.9,243.5 43.0,245.1 43.0,246.6 43.1,248.1 43.1,249.6 43.2,251.2 43.2,252.7 43.3,254.2 43.3,255.7 43.4,257.2 43.4,258.8 43.5,260.3 43.5,261.8 43.6,263.3 43.6,264.8 43.6,266.4 43.7,267.9 43.7,269.4 43.8,270.9 43.8,272.5 43.8,274.0 43.9,275.5 43.9,277.0 44.0,278.5 44.0,280.1 44.0,281.6 44.1,283.1 44.1,284.6 44.2,286.2 44.2,287.7 44.3,289.2 44.3,290.7 44.4,292.2 44.4,293.8 44.5,295.3 44.6,296.8 44.6,298.3 44.7,299.9 44.7,301.4 44.8,302.9 44.9,304.4 45.0,305.9 45.0,307.5 45.1,309.0 45.2,310.5 45.3,312.0 45.4,313.5 45.5,315.1 45.6,316.6 45.7,318.1 45.8,319.6 45.9,321.1 46.0,322.7 46.1,324.2 46.2,325.7 46.3,327.2 46.4,328.7 46.6,330.2 46.7,331.8 46.8,333.3 46.9,334.8 47.0,336.3 47.1,337.8 47.3,339.4 47.4,340.9 47.5,342.4 47.6,343.9 47.7,345.4 47.8,347.0 47.9,348.5 48.0,350.0 48.1,351.5 48.2,353.0 48.3,354.5 48.4,356.1 48.5,357.6 48.6,359.1 48.7,360.6 48.8,362.1 48.9,363.7 49.0,365.2 49.0,366.7 49.1,368.2 49.2,369.7 49.3,371.3 49.4,372.8 49.4,374.3 49.5,375.8 49.6,377.4 49.7,378.9 49.7,380.4 49.8,381.9 49.9,383.4 50.0,385.0 50.0,386.5 50.1,388.0 334.6,390.0 334.6,239.3" fill="rgb(2,104,225)"/>
<polygon points="50.7,240.5 50.8,242.0 50.9,243.5 50.9,245.1 51.0,246.6 51.1,248.1 51.2,249.6 51.3,251.2 51.4,252.7 51.5,254.2 51.6,255.7 51.6,257.3 51.7,258.8 51.8,260.3 51.9,261.8 52.0,263.4 52.1,264.9 52.2,266.4 52.3,267.9 52.5,269.5 52.6,271.0 52.7,272.5 52.8,274.0 52.9,275.5 53.1,277.1 53.2,278.6 53.3,280.1 53.4,281.6 53.6,283.1 53.7,284.7 53.8,286.2 53.9,287.7 54.0,289.2 54.2,290.8 54.3,292.3 54.4,293.8 54.4,295.3 54.5,296.9 54.6,298.4 54.7,299.9 54.8,301.4 54.9,303.0 55.0,304.5 55.1,306.0 55.2,307.5 55.3,309.0 55.4,310.6 55.5,312.1 55.6,313.6 55.7,315.1 55.9,316.7 56.0,318.2 56.2,319.7 56.3,321.2 56.5,322.7 56.7,324.2 56.9,325.8 57.1,327.3 57.3,328.8 57.5,330.3 57.7,331.8 57.9,333.3 58.1,334.8 58.3,336.4 58.4,337.9 58.6,339.4 58.8,340.9 59.0,342.4 59.2,343.9 59.4,345.4 59.5,347.0 59.7,348.5 59.8,350.0 60.0,351.5 60.1,353.0 60.3,354.6 60.4,356.1 60.6,357.6 60.7,359.1 60.8,360.6 61.0,362.2 61.1,363.7 61.2,365.2 61.4,366.7 61.5,368.2 61.6,369.8 61.8,371.3 61.9,372.8 62.1,374.3 62.2,375.8 62.4,377.4 62.5,378.9 62.7,380.4 62.8,381.9 63.0,383.4 63.1,385.0 63.3,386.5 63.4,388.0 334.6,390.0 334.6,239.3" fill="rgb(16,142,210)"/>
<polygon points="60.3,240.5 60.4,242.0 60.5,243.5 60.6,245.0 60.7,246.6 60.8,248.1 60.9,249.6 61.0,251.1 61.1,252.6 61.3,254.1 61.4,255.6 61.5,257.2 61.6,258.7 61.7,260.2 61.8,261.7 61.9,263.2 62.0,264.7 62.2,266.2 62.3,267.8 62.4,269.3 62.5,270.8 62.7,272.3 62.8,273.8 62.9,275.3 63.0,276.8 63.2,278.3 63.3,279.8 63.5,281.4 63.6,282.9 63.7,284.4 63.9,285.9 64.0,287.4 64.1,288.9 64.2,290.4 64.4,291.9 64.5,293.5 64.6,295.0 64.7,296.5 64.8,298.0 64.9,299.5 65.1,301.0 65.2,302.6 65.3,304.1 65.4,305.6 65.6,307.1 65.7,308.6 65.9,310.1 66.0,311.6 66.2,313.1 66.4,314.6 66.6,316.1 66.8,317.6 67.0,319.1 67.2,320.6 67.5,322.1 67.7,323.6 68.0,325.1 68.3,326.6 68.5,328.1 68.8,329.6 69.1,331.1 69.4,332.6 69.6,334.1 69.9,335.6 70.2,337.1 70.5,338.6 70.7,340.1 71.0,341.6 71.2,343.1 71.5,344.6 71.7,346.1 71.9,347.6 72.2,349.1 72.4,350.6 72.6,352.1 72.8,353.6 73.0,355.1 73.2,356.6 73.4,358.1 73.6,359.6 73.8,361.1 74.0,362.6 74.2,364.1 74.4,365.6 74.7,367.1 74.9,368.6 75.2,370.1 75.4,371.6 75.7,373.1 75.9,374.6 76.2,376.1 76.5,377.6 76.8,379.1 77.0,380.5 77.3,382.0 77.6,383.5 77.9,385.0 78.2,386.5 78.5,388.0 334.6,390.0 334.6,239.3" fill="rgb(15,174,185)"/>
<polygon points="70.7,240.5 70.8,242.0 70.9,243.6 71.0,245.1 71.1,246.6 71.2,248.1 71.3,249.7 71.5,251.2 71.6,252.7 71.7,254.2 71.8,255.8 71.9,257.3 72.1,258.8 72.2,260.3 72.4,261.9 72.5,263.4 72.7,264.9 72.8,266.4 73.0,268.0 73.1,269.5 73.3,271.0 73.5,272.5 73.7,274.0 73.9,275.5 74.1,277.1 74.3,278.6 74.5,280.1 74.8,281.6 75.0,283.1 75.2,284.6 75.4,286.1 75.7,287.7 75.9,289.2 76.1,290.7 76.3,292.2 76.5,293.7 76.7,295.2 76.9,296.8 77.1,298.3 77.3,299.8 77.5,301.3 77.7,302.8 77.9,304.3 78.1,305.9 78.3,307.4 78.5,308.9 78.7,310.4 79.0,311.9 79.2,313.4 79.4,314.9 79.7,316.4 80.0,318.0 80.2,319.5 80.5,321.0 80.8,322.5 81.1,324.0 81.5,325.4 81.8,326.9 82.1,328.4 82.5,329.9 82.8,331.4 83.2,332.9 83.5,334.4 83.9,335.9 84.3,337.4 84.7,338.9 85.0,340.3 85.4,341.8 85.8,343.3 86.2,344.8 86.6,346.3 87.0,347.7 87.4,349.2 87.8,350.7 88.2,352.2 88.6,353.7 89.0,355.1 89.5,356.6 89.9,358.1 90.4,359.5 90.8,361.0 91.3,362.4 91.8,363.9 92.3,365.3 92.8,366.8 93.3,368.2 93.8,369.6 94.4,371.1 94.9,372.5 95.5,373.9 96.1,375.3 96.7,376.7 97.2,378.2 97.8,379.6 98.4,381.0 99.0,382.4 99.7,383.8 100.3,385.2 100.9,386.6 101.5,388.0 334.6,390.0 334.6,239.3" fill="rgb(101,190,134)"/>
<polygon points="83.7,240.5 83.8,242.0 83.9,243.5 84.0,245.0 84.1,246.6 84.2,248.1 84.3,249.6 84.4,251.1 84.6,252.6 84.7,254.1 84.8,255.6 84.9,257.1 85.1,258.6 85.2,260.2 85.4,261.7 85.5,263.2 85.7,264.7 85.9,266.2 86.1,267.7 86.3,269.2 86.5,270.7 86.7,272.2 86.9,273.7 87.2,275.2 87.4,276.6 87.7,278.1 88.0,279.6 88.3,281.1 88.6,282.6 88.8,284.1 89.1,285.6 89.4,287.1 89.7,288.5 90.0,290.0 90.3,291.5 90.6,293.0 90.9,294.5 91.1,296.0 91.4,297.5 91.7,299.0 92.0,300.5 92.3,302.0 92.6,303.4 92.9,304.9 93.3,306.4 93.6,307.9 94.0,309.4 94.3,310.8 94.7,312.3 95.1,313.7 95.5,315.2 96.0,316.6 96.4,318.1 96.9,319.5 97.4,320.9 98.0,322.3 98.5,323.8 99.1,325.2 99.6,326.6 100.2,328.0 100.8,329.4 101.4,330.8 102.0,332.1 102.6,333.5 103.2,334.9 103.8,336.3 104.5,337.7 105.1,339.1 105.7,340.5 106.3,341.9 106.9,343.3 107.5,344.7 108.1,346.1 108.6,347.4 109.2,348.8 109.8,350.2 110.4,351.7 110.9,353.1 111.5,354.5 112.1,355.9 112.7,357.2 113.3,358.6 113.9,360.0 114.5,361.4 115.2,362.8 115.8,364.2 116.5,365.5 117.2,366.9 118.0,368.2 118.8,369.5 119.6,370.7 120.4,372.0 121.3,373.2 122.3,374.4 123.3,375.6 124.3,376.7 125.3,377.8 126.4,378.9 127.4,380.0 128.5,381.0 129.6,382.0 130.8,383.1 131.9,384.1 133.0,385.1 134.2,386.0 135.3,387.0 136.5,388.0 334.6,390.0 334.6,239.3" fill="rgb(192,188,96)"/>
<polygon points="101.3,240.5 101.5,242.0 101.8,243.5 102.0,245.0 102.2,246.5 102.5,248.0 102.7,249.5 103.0,251.0 103.2,252.5 103.4,254.0 103.7,255.5 103.9,257.0 104.1,258.5 104.3,260.0 104.6,261.5 104.8,263.0 105.0,264.6 105.2,266.1 105.4,267.6 105.7,269.1 105.9,270.6 106.1,272.1 106.3,273.6 106.5,275.1 106.8,276.7 107.0,278.2 107.3,279.7 107.6,281.2 107.8,282.7 108.2,284.1 108.5,285.6 108.9,287.1 109.3,288.6 109.7,290.0 110.2,291.4 110.7,292.9 111.2,294.3 111.7,295.7 112.3,297.1 112.9,298.5 113.5,299.9 114.1,301.3 114.7,302.7 115.3,304.1 115.9,305.5 116.5,306.9 117.1,308.3 117.7,309.7 118.3,311.1 118.9,312.6 119.5,314.0 120.0,315.4 120.6,316.8 121.1,318.2 121.7,319.6 122.3,321.1 122.8,322.5 123.4,323.9 124.0,325.3 124.6,326.7 125.3,328.0 125.9,329.4 126.6,330.8 127.3,332.1 128.0,333.4 128.7,334.8 129.5,336.1 130.2,337.4 131.0,338.8 131.7,340.1 132.5,341.4 133.2,342.8 134.0,344.1 134.7,345.4 135.4,346.8 136.2,348.1 136.9,349.4 137.7,350.8 138.4,352.1 139.2,353.4 140.1,354.6 140.9,355.9 141.8,357.1 142.7,358.3 143.7,359.5 144.7,360.7 145.7,361.8 146.7,362.9 147.8,364.0 148.8,365.1 149.9,366.2 151.0,367.3 152.1,368.3 153.2,369.4 154.3,370.4 155.5,371.4 156.6,372.4 157.7,373.4 158.9,374.4 160.0,375.4 161.2,376.4 162.4,377.4 163.6,378.4 164.7,379.3 165.9,380.3 167.2,381.2 168.4,382.1 169.6,383.0 170.9,383.8 172.2,384.6 173.5,385.3 174.9,386.0 176.2,386.7 177.6,387.4 179.0,388.0 334.6,390.0 334.6,239.3" fill="rgb(255,195,55)"/>
<polygon points="113.8,240.5 114.2,242.0 114.5,243.5 114.9,244.9 115.2,246.4 115.6,247.9 116.0,249.4 116.3,250.9 116.7,252.3 117.0,253.8 117.4,255.3 117.7,256.8 118.1,258.2 118.5,259.7 118.8,261.2 119.2,262.7 119.6,264.2 119.9,265.6 120.3,267.1 120.6,268.6 121.0,270.1 121.4,271.6 121.7,273.0 122.1,274.5 122.5,276.0 122.9,277.5 123.3,278.9 123.6,280.4 124.0,281.9 124.5,283.3 124.9,284.8 125.3,286.3 125.7,287.7 126.2,289.2 126.6,290.6 127.1,292.1 127.5,293.5 128.0,295.0 128.5,296.4 129.0,297.9 129.5,299.3 130.0,300.7 130.6,302.2 131.1,303.6 131.7,305.0 132.2,306.4 132.8,307.8 133.4,309.2 134.0,310.6 134.6,312.0 135.3,313.4 135.9,314.8 136.5,316.1 137.2,317.5 137.8,318.9 138.5,320.3 139.1,321.7 139.8,323.0 140.5,324.4 141.2,325.8 141.9,327.1 142.6,328.5 143.3,329.8 144.1,331.1 144.9,332.4 145.8,333.7 146.6,334.9 147.5,336.1 148.5,337.3 149.4,338.5 150.4,339.6 151.4,340.8 152.4,342.0 153.4,343.1 154.4,344.3 155.3,345.5 156.3,346.7 157.2,347.9 158.2,349.1 159.1,350.3 160.0,351.5 161.0,352.7 161.9,353.9 162.9,355.1 163.8,356.2 164.8,357.4 165.8,358.5 166.8,359.7 167.9,360.8 169.0,361.9 170.0,362.9 171.2,364.0 172.3,365.0 173.5,366.0 174.6,366.9 175.8,367.9 177.1,368.8 178.3,369.7 179.6,370.6 180.8,371.4 182.1,372.2 183.4,373.0 184.8,373.8 186.1,374.6 187.4,375.3 188.8,376.0 190.2,376.6 191.5,377.3 192.9,377.9 194.3,378.6 195.7,379.2 197.1,379.8 198.5,380.4 199.9,381.0 201.3,381.6 202.7,382.1 204.1,382.7 205.6,383.2 207.0,383.7 208.4,384.3 209.9,384.7 211.3,385.2 212.7,385.7 214.2,386.2 215.6,386.6 217.1,387.1 218.5,387.5 220.0,388.0 334.6,390.0 334.6,239.3" fill="rgb(246,219,35)"/>
<polygon points="135.2,240.5 135.7,241.9 136.1,243.4 136.6,244.8 137.0,246.3 137.5,247.7 137.9,249.2 138.4,250.6 138.9,252.0 139.3,253.5 139.8,254.9 140.3,256.4 140.7,257.8 141.2,259.3 141.7,260.7 142.2,262.1 142.7,263.6 143.2,265.0 143.6,266.4 144.1,267.9 144.6,269.3 145.2,270.7 145.7,272.2 146.2,273.6 146.7,275.0 147.2,276.4 147.8,277.8 148.3,279.3 148.9,280.7 149.4,282.1 150.0,283.5 150.6,284.9 151.2,286.3 151.8,287.7 152.4,289.1 153.0,290.4 153.6,291.8 154.3,293.2 154.9,294.6 155.6,295.9 156.2,297.3 156.9,298.6 157.6,300.0 158.3,301.3 159.0,302.7 159.7,304.0 160.4,305.4 161.1,306.7 161.8,308.1 162.5,309.4 163.2,310.7 164.0,312.1 164.7,313.4 165.4,314.7 166.2,316.1 166.9,317.4 167.7,318.7 168.5,320.0 169.2,321.3 170.0,322.6 170.8,323.9 171.7,325.1 172.5,326.4 173.4,327.6 174.3,328.9 175.2,330.1 176.1,331.3 177.1,332.4 178.0,333.6 179.0,334.8 180.0,335.9 181.0,337.0 182.0,338.2 183.0,339.3 184.1,340.4 185.1,341.5 186.1,342.6 187.2,343.8 188.2,344.9 189.2,346.0 190.2,347.1 191.3,348.2 192.3,349.3 193.4,350.4 194.4,351.5 195.5,352.5 196.6,353.6 197.7,354.6 198.9,355.6 200.0,356.6 201.2,357.6 202.3,358.5 203.5,359.5 204.7,360.4 205.9,361.3 207.1,362.3 208.3,363.2 209.6,364.1 210.8,365.0 212.0,365.9 213.3,366.7 214.5,367.6 215.8,368.5 217.1,369.3 218.3,370.1 219.6,370.9 220.9,371.7 222.3,372.4 223.6,373.1 224.9,373.8 226.3,374.5 227.7,375.1 229.0,375.7 230.4,376.3 231.8,376.9 233.3,377.4 234.7,378.0 236.1,378.5 237.5,379.0 239.0,379.5 240.4,379.9 241.9,380.4 243.3,380.9 244.8,381.3 246.2,381.7 247.7,382.2 249.1,382.6 250.6,383.0 252.0,383.4 253.5,383.8 255.0,384.1 256.5,384.5 257.9,384.8 259.4,385.1 260.9,385.5 262.4,385.8 263.9,386.1 265.4,386.4 266.8,386.6 268.3,386.9 269.8,387.2 271.3,387.5 272.8,387.7 274.3,388.0 334.6,390.0 334.6,239.3" fill="rgb(249,251,14)"/>
<polyline points="42.8,240.5 42.9,242.0 42.9,243.5 43.0,245.1 43.0,246.6 43.1,248.1 43.1,249.6 43.2,251.2 43.2,252.7 43.3,254.2 43.3,255.7 43.4,257.2 43.4,258.8 43.5,260.3 43.5,261.8 43.6,263.3 43.6,264.8 43.6,266.4 43.7,267.9 43.7,269.4 43.8,270.9 43.8,272.5 43.8,274.0 43.9,275.5 43.9,277.0 44.0,278.5 44.0,280.1 44.0,281.6 44.1,283.1 44.1,284.6 44.2,286.2 44.2,287.7 44.3,289.2 44.3,290.7 44.4,292.2 44.4,293.8 44.5,295.3 44.6,296.8 44.6,298.3 44.7,299.9 44.7,301.4 44.8,302.9 44.9,304.4 45.0,305.9 45.0,307.5 45.1,309.0 45.2,310.5 45.3,312.0 45.4,313.5 45.5,315.1 45.6,316.6 45.7,318.1 45.8,319.6 45.9,321.1 46.0,322.7 46.1,324.2 46.2,325.7 46.3,327.2 46.4,328.7 46.6,330.2 46.7,331.8 46.8,333.3 46.9,334.8 47.0,336.3 47.1,337.8 47.3,339.4 47.4,340.9 47.5,342.4 47.6,343.9 47.7,345.4 47.8,347.0 47.9,348.5 48.0,350.0 48.1,351.5 48.2,353.0 48.3,354.5 48.4,356.1 48.5,357.6 48.6,359.1 48.7,360.6 48.8,362.1 48.9,363.7 49.0,365.2 49.0,366.7 49.1,368.2 49.2,369.7 49.3,371.3 49.4,372.8 49.4,374.3 49.5,375.8 49.6,377.4 49.7,378.9 49.7,380.4 49.8,381.9 49.9,383.4 50.0,385.0 50.0,386.5 50.1,388.0" fill="none" stroke="rgba(0,0,0,0.5)" stroke-width="0.5"/>
<polyline points="50.7,240.5 50.8,242.0 50.9,243.5 50.9,245.1 51.0,246.6 51.1,248.1 51.2,249.6 51.3,251.2 51.4,252.7 51.5,254.2 51.6,255.7 51.6,257.3 51.7,258.8 51.8,260.3 51.9,261.8 52.0,263.4 52.1,264.9 52.2,266.4 52.3,267.9 52.5,269.5 52.6,271.0 52.7,272.5 52.8,274.0 52.9,275.5 53.1,277.1 53.2,278.6 53.3,280.1 53.4,281.6 53.6,283.1 53.7,284.7 53.8,286.2 53.9,287.7 54.0,289.2 54.2,290.8 54.3,292.3 54.4,293.8 54.4,295.3 54.5,296.9 54.6,298.4 54.7,299.9 54.8,301.4 54.9,303.0 55.0,304.5 55.1,306.0 55.2,307.5 55.3,309.0 55.4,310.6 55.5,312.1 55.6,313.6 55.7,315.1 55.9,316.7 56.0,318.2 56.2,319.7 56.3,321.2 56.5,322.7 56.7,324.2 56.9,325.8 57.1,327.3 57.3,328.8 57.5,330.3 57.7,331.8 57.9,333.3 58.1,334.8 58.3,336.4 58.4,337.9 58.6,339.4 58.8,340.9 59.0,342.4 59.2,343.9 59.4,345.4 59.5,347.0 59.7,348.5 59.8,350.0 60.0,351.5 60.1,353.0 60.3,354.6 60.4,356.1 60.6,357.6 60.7,359.1 60.8,360.6 61.0,362.2 61.1,363.7 61.2,365.2 61.4,366.7 61.5,368.2 61.6,369.8 61.8,371.3 61.9,372.8 62.1,374.3 62.2,375.8 62.4,377.4 62.5,378.9 62.7,380.4 62.8,381.9 63.0,383.4 63.1,385.0 63.3,386.5 63.4,388.0" fill="none" stroke="rgba(0,0,0,0.5)" stroke-width="0.5"/>
<polyline points="60.3,240.5 60.4,242.0 60.5,243.5 60.6,245.0 60.7,246.6 60.8,248.1 60.9,249.6 61.0,251.1 61.1,252.6 61.3,254.1 61.4,255.6 61.5,257.2 61.6,258.7 61.7,260.2 61.8,261.7 61.9,263.2 62.0,264.7 62.2,266.2 62.3,267.8 62.4,269.3 62.5,270.8 62.7,272.3 62.8,273.8 62.9,275.3 63.0,276.8 63.2,278.3 63.3,279.8 63.5,281.4 63.6,282.9 63.7,284.4 63.9,285.9 64.0,287.4 64.1,288.9 64.2,290.4 64.4,291.9 64.5,293.5 64.6,295.0 64.7,296.5 64.8,298.0 64.9,299.5 65.1,301.0 65.2,302.6 65.3,304.1 65.4,305.6 65.6,307.1 65.7,308.6 65.9,310.1 66.0,311.6 66.2,313.1 66.4,314.6 66.6,316.1 66.8,317.6 67.0,319.1 67.2,320.6 67.5,322.1 67.7,323.6 68.0,325.1 68.3,326.6 68.5,328.1 68.8,329.6 69.1,331.1 69.4,332.6 69.6,334.1 69.9,335.6 70.2,337.1 70.5,338.6 70.7,340.1 71.0,341.6 71.2,343.1 71.5,344.6 71.7,346.1 71.9,347.6 72.2,349.1 72.4,350.6 72.6,352.1 72.8,353.6 73.0,355.1 73.2,356.6 73.4,358.1 73.6,359.6 73.8,361.1 74.0,362.6 74.2,364.1 74.4,365.6 74.7,367.1 74.9,368.6 75.2,370.1 75.4,371.6 75.7,373.1 75.9,374.6 76.2,376.1 76.5,377.6 76.8,379.1 77.0,380.5 77.3,382.0 77.6,383.5 77.9,385.0 78.2,386.5 78.5,388.0" fill="none" stroke="rgba(0,0,0,0.5)" stroke-width="0.5"/>
<polyline points="70.7,240.5 70.8,242.0 70.9,243.6 71.0,245.1 71.1,246.6 71.2,248.1 71.3,249.7 71.5,251.2 71.6,252.7 71.7,254.2 71.8,255.8 71.9,257.3 72.1,258.8 72.2,260.3 72.4,261.9 72.5,263.4 72.7,264.9 72.8,266.4 73.0,268.0 73.1,269.5 73.3,271.0 73.5,272.5 73.7,274.0 73.9,275.5 74.1,277.1 74.3,278.6 74.5,280.1 74.8,281.6 75.0,283.1 75.2,284.6 75.4,286.1 75.7,287.7 75.9,289.2 76.1,290.7 76.3,292.2 76.5,293.7 76.7,295.2 76.9,296.8 77.1,298.3 77.3,299.8 77.5,301.3 77.7,302.8 77.9,304.3 78.1,305.9 78.3,307.4 78.5,308.9 78.7,310.4 79.0,311.9 79.2,313.4 79.4,314.9 79.7,316.4 80.0,318.0 80.2,319.5 80.5,321.0 80.8,322.5 81.1,324.0 81.5,325.4 81.8,326.9 82.1,328.4 82.5,329.9 82.8,331.4 83.2,332.9 83.5,334.4 83.9,335.9 84.3,337.4 84.7,338.9 85.0,340.3 85.4,341.8 85.8,343.3 86.2,344.8 86.6,346.3 87.0,347.7 87.4,349.2 87.8,350.7 88.2,352.2 88.6,353.7 89.0,355.1 89.5,356.6 89.9,358.1 90.4,359.5 90.8,361.0 91.3,362.4 91.8,363.9 92.3,365.3 92.8,366.8 93.3,368.2 93.8,369.6 94.4,371.1 94.9,372.5 95.5,373.9 96.1,375.3 96.7,376.7 97.2,378.2 97.8,379.6 98.4,381.0 99.0,382.4 99.7,383.8 100.3,385.2 100.9,386.6 101.5,388.0" fill="none" stroke="rgba(0,0,0,0.5)" stroke-width="0.5"/>
<polyline points="83.7,240.5 83.8,242.0 83.9,243.5 84.0,245.0 84.1,246.6 84.2,248.1 84.3,249.6 84.4,251.1 84.6,252.6 84.7,254.1 84.8,255.6 84.9,257.1 85.1,258.6 85.2,260.2 85.4,261.7 85.5,263.2 85.7,264.7 85.9,266.2 86.1,267.7 86.3,269.2 86.5,270.7 86.7,272.2 86.9,273.7 87.2,275.2 87.4,276.6 87.7,278.1 88.0,279.6 88.3,281.1 88.6,282.6 88.8,284.1 89.1,285.6 89.4,287.1 89.7,288.5 90.0,290.0 90.3,291.5 90.6,293.0 90.9,294.5 91.1,296.0 91.4,297.5 91.7,299.0 92.0,300.5 92.3,302.0 92.6,303.4 92.9,304.9 93.3,306.4 93.6,307.9 94.0,309.4 94.3,310.8 94.7,312.3 95.1,313.7 95.5,315.2 96.0,316.6 96.4,318.1 96.9,319.5 97.4,320.9 98.0,322.3 98.5,323.8 99.1,325.2 99.6,326.6 100.2,328.0 100.8,329.4 101.4,330.8 102.0,332.1 102.6,333.5 103.2,334.9 103.8,336.3 104.5,337.7 105.1,339.1 105.7,340.5 106.3,341.9 106.9,343.3 107.5,344.7 108.1,346.1 108.6,347.4 109.2,348.8 109.8,350.2 110.4,351.7 110.9,353.1 111.5,354.5 112.1,355.9 112.7,357.2 113.3,358.6 113.9,360.0 114.5,361.4 115.2,362.8 115.8,364.2 116.5,365.5 117.2,366.9 118.0,368.2 118.8,369.5 119.6,370.7 120.4,372.0 121.3,373.2 122.3,374.4 123.3,375.6 124.3,376.7 125.3,377.8 126.4,378.9 127.4,380.0 128.5,381.0 129.6,382.0 130.8,383.1 131.9,384.1 133.0,385.1 134.2,386.0 135.3,387.0 136.5,388.0" fill="none" stroke="rgba(0,0,0,0.5)" stroke-width="0.5"/>
<polyline points="101.3,240.5 101.5,242.0 101.8,243.5 102.0,245.0 102.2,246.5 102.5,248.0 102.7,249.5 103.0,251.0 103.2,252.5 103.4,254.0 103.7,255.5 103.9,257.0 104.1,258.5 104.3,260.0 104.6,261.5 104.8,263.0 105.0,264.6 105.2,266.1 105.4,267.6 105.7,269.1 105.9,270.6 106.1,272.1 106.3,273.6 106.5,275.1 106.8,276.7 107.0,278.2 107.3,279.7 107.6,281.2 107.8,282.7 108.2,284.1 108.5,285.6 108.9,287.1 109.3,288.6 109.7,290.0 110.2,291.4 110.7,292.9 111.2,294.3 111.7,295.7 112.3,297.1 112.9,298.5 113.5,299.9 114.1,301.3 114.7,302.7 115.3,304.1 115.9,305.5 116.5,306.9 117.1,308.3 117.7,309.7 118.3,311.1 118.9,312.6 119.5,314.0 120.0,315.4 120.6,316.8 121.1,318.2 121.7,319.6 122.3,321.1 122.8,322.5 123.4,323.9 124.0,325.3 124.6,326.7 125.3,328.0 125.9,329.4 126.6,330.8 127.3,332.1 128.0,333.4 128.7,334.8 129.5,336.1 130.2,337.4 131.0,338.8 131.7,340.1 132.5,341.4 133.2,342.8 134.0,344.1 134.7,345.4 135.4,346.8 136.2,348.1 136.9,349.4 137.7,350.8 138.4,352.1 139.2,353.4 140.1,354.6 140.9,355.9 141.8,357.1 142.7,358.3 143.7,359.5 144.7,360.7 145.7,361.8 146.7,362.9 147.8,364.0 148.8,365.1 149.9,366.2 151.0,367.3 152.1,368.3 153.2,369.4 154.3,370.4 155.5,371.4 156.6,372.4 157.7,373.4 158.9,374.4 160.0,375.4 161.2,376.4 162.4,377.4 163.6,378.4 164.7,379.3 165.9,380.3 167.2,381.2 168.4,382.1 169.6,383.0 170.9,383.8 172.2,384.6 173.5,385.3 174.9,386.0 176.2,386.7 177.6,387.4 179.0,388.0" fill="none" stroke="rgba(0,0,0,0.5)" stroke-width="0.5"/>
<polyline points="113.8,240.5 114.2,242.0 114.5,243.5 114.9,244.9 115.2,246.4 115.6,247.9 116.0,249.4 116.3,250.9 116.7,252.3 117.0,253.8 117.4,255.3 117.7,256.8 118.1,258.2 118.5,259.7 118.8,261.2 119.2,262.7 119.6,264.2 119.9,265.6 120.3,267.1 120.6,268.6 121.0,270.1 121.4,271.6 121.7,273.0 122.1,274.5 122.5,276.0 122.9,277.5 123.3,278.9 123.6,280.4 124.0,281.9 124.5,283.3 124.9,284.8 125.3,286.3 125.7,287.7 126.2,289.2 126.6,290.6 127.1,292.1 127.5,293.5 128.0,295.0 128.5,296.4 129.0,297.9 129.5,299.3 130.0,300.7 130.6,302.2 131.1,303.6 131.7,305.0 132.2,306.4 132.8,307.8 133.4,309.2 134.0,310.6 134.6,312.0 135.3,313.4 135.9,314.8 136.5,316.1 137.2,317.5 137.8,318.9 138.5,320.3 139.1,321.7 139.8,323.0 140.5,324.4 141.2,325.8 141.9,327.1 142.6,328.5 143.3,329.8 144.1,331.1 144.9,332.4 145.8,333.7 146.6,334.9 147.5,336.1 148.5,337.3 149.4,338.5 150.4,339.6 151.4,340.8 152.4,342.0 153.4,343.1 154.4,344.3 155.3,345.5 156.3,346.7 157.2,347.9 158.2,349.1 159.1,350.3 160.0,351.5 161.0,352.7 161.9,353.9 162.9,355.1 163.8,356.2 164.8,357.4 165.8,358.5 166.8,359.7 167.9,360.8 169.0,361.9 170.0,362.9 171.2,364.0 172.3,365.0 173.5,366.0 174.6,366.9 175.8,367.9 177.1,368.8 178.3,369.7 179.6,370.6 180.8,371.4 182.1,372.2 183.4,373.0 184.8,373.8 186.1,374.6 187.4,375.3 188.8,376.0 190.2,376.6 191.5,377.3 192.9,377.9 194.3,378.6 195.7,379.2 197.1,379.8 198.5,380.4 199.9,381.0 201.3,381.6 202.7,382.1 204.1,382.7 205.6,383.2 207.0,383.7 208.4,384.3 209.9,384.7 211.3,385.2 212.7,385.7 214.2,386.2 215.6,386.6 217.1,387.1 218.5,387.5 220.0,388.0" fill="none" stroke="rgba(0,0,0,0.5)" stroke-width="0.5"/>
<polyline points="135.2,240.5 135.7,241.9 136.1,243.4 136.6,244.8 137.0,246.3 137.5,247.7 137.9,249.2 138.4,250.6 138.9,252.0 139.3,253.5 139.8,254.9 140.3,256.4 140.7,257.8 141.2,259.3 141.7,260.7 142.2,262.1 142.7,263.6 143.2,265.0 143.6,266.4 144.1,267.9 144.6,269.3 145.2,270.7 145.7,272.2 146.2,273.6 146.7,275.0 147.2,276.4 147.8,277.8 148.3,279.3 148.9,280.7 149.4,282.1 150.0,283.5 150.6,284.9 151.2,286.3 151.8,287.7 152.4,289.1 153.0,290.4 153.6,291.8 154.3,293.2 154.9,294.6 155.6,295.9 156.2,297.3 156.9,298.6 157.6,300.0 158.3,301.3 159.0,302.7 159.7,304.0 160.4,305.4 161.1,306.7 161.8,308.1 162.5,309.4 163.2,310.7 164.0,312.1 164.7,313.4 165.4,314.7 166.2,316.1 166.9,317.4 167.7,318.7 168.5,320.0 169.2,321.3 170.0,322.6 170.8,323.9 171.7,325.1 172.5,326.4 173.4,327.6 174.3,328.9 175.2,330.1 176.1,331.3 177.1,332.4 178.0,333.6 179.0,334.8 180.0,335.9 181.0,337.0 182.0,338.2 183.0,339.3 184.1,340.4 185.1,341.5 186.1,342.6 187.2,343.8 188.2,344.9 189.2,346.0 190.2,347.1 191.3,348.2 192.3,349.3 193.4,350.4 194.4,351.5 195.5,352.5 196.6,353.6 197.7,354.6 198.9,355.6 200.0,356.6 201.2,357.6 202.3,358.5 203.5,359.5 204.7,360.4 205.9,361.3 207.1,362.3 208.3,363.2 209.6,364.1 210.8,365.0 212.0,365.9 213.3,366.7 214.5,367.6 215.8,368.5 217.1,369.3 218.3,370.1 219.6,370.9 220.9,371.7 222.3,372.4 223.6,373.1 224.9,373.8 226.3,374.5 227.7,375.1 229.0,375.7 230.4,376.3 231.8,376.9 233.3,377.4 234.7,378.0 236.1,378.5 237.5,379.0 239.0,379.5 240.4,379.9 241.9,380.4 243.3,380.9 244.8,381.3 246.2,381.7 247.7,382.2 249.1,382.6 250.6,383.0 252.0,383.4 253.5,383.8 255.0,384.1 256.5,384.5 257.9,384.8 259.4,385.1 260.9,385.5 262.4,385.8 263.9,386.1 265.4,386.4 266.8,386.6 268.3,386.9 269.8,387.2 271.3,387.5 272.8,387.7 274.3,388.0" fill="none" stroke="rgba(0,0,0,0.5)" stroke-width="0.5"/>
<polyline points="36.0,330.0 36.1,331.6 36.2,333.1 36.3,334.7 36.4,336.3 36.5,337.8 36.6,339.4 36.7,341.0 36.8,342.5 36.9,344.1 37.0,345.7 37.0,347.2 37.1,348.8 37.2,350.4 37.3,351.9 37.4,353.5 37.5,355.1 37.6,356.6 37.6,358.2 37.7,359.8 37.8,361.3 37.9,362.9 37.9,364.5 38.0,366.0 38.1,367.6 38.2,369.2 38.2,370.8 38.3,372.3 38.4,373.9 38.4,375.5 38.5,377.0 38.6,378.6 38.7,380.2 38.7,381.7 38.8,383.3 38.9,384.9 38.9,386.4 39.0,388.0" fill="none" stroke="rgba(0,0,0,0.5)" stroke-width="0.5"/>
</g>
<rect x="35.0" y="17.0" width="297.7" height="144.5" fill="none" stroke="#333" stroke-width="0.45"/>
<path d="M84.61666666666667 161.5v-3M84.61666666666667 17.0v3" stroke="#333" stroke-width="0.45"/>
<path d="M134.23333333333335 161.5v-3M134.23333333333335 17.0v3" stroke="#333" stroke-width="0.45"/>
<path d="M183.85 161.5v-3M183.85 17.0v3" stroke="#333" stroke-width="0.45"/>
<path d="M233.46666666666667 161.5v-3M233.46666666666667 17.0v3" stroke="#333" stroke-width="0.45"/>
<path d="M283.08333333333337 161.5v-3M283.08333333333337 17.0v3" stroke="#333" stroke-width="0.45"/>
<path d="M332.7 161.5v-3M332.7 17.0v3" stroke="#333" stroke-width="0.45"/>
<path d="M35.0 145.44444444444446h3M332.7 145.44444444444446h-3" stroke="#333" stroke-width="0.45"/>
<path d="M35.0 113.33333333333334h3M332.7 113.33333333333334h-3" stroke="#333" stroke-width="0.45"/>
<path d="M35.0 81.22222222222223h3M332.7 81.22222222222223h-3" stroke="#333" stroke-width="0.45"/>
<path d="M35.0 49.111111111111114h3M332.7 49.111111111111114h-3" stroke="#333" stroke-width="0.45"/>
<path d="M35.0 17.0h3M332.7 17.0h-3" stroke="#333" stroke-width="0.45"/>
<text font-size="13" text-anchor="middle" font-family="'Liberation Sans', sans-serif" transform="translate(84.2 179.6) scale(1.0 1.09)">0.05</text>
<text font-size="13" text-anchor="middle" font-family="'Liberation Sans', sans-serif" transform="translate(133.8 179.6) scale(1.0 1.09)">0.1</text>
<text font-size="13" text-anchor="middle" font-family="'Liberation Sans', sans-serif" transform="translate(183.4 179.6) scale(1.0 1.09)">0.15</text>
<text font-size="13" text-anchor="middle" font-family="'Liberation Sans', sans-serif" transform="translate(233.1 179.6) scale(1.0 1.09)">0.2</text>
<text font-size="13" text-anchor="middle" font-family="'Liberation Sans', sans-serif" transform="translate(282.7 179.6) scale(1.0 1.09)">0.25</text>
<text font-size="13" text-anchor="middle" font-family="'Liberation Sans', sans-serif" transform="translate(332.3 179.6) scale(1.0 1.09)">0.3</text>
<text font-size="13" text-anchor="end" font-family="'Liberation Sans', sans-serif" transform="translate(31.2 151.0) scale(0.95 1.1)">2</text>
<text font-size="13" text-anchor="end" font-family="'Liberation Sans', sans-serif" transform="translate(31.2 118.9) scale(0.95 1.1)">4</text>
<text font-size="13" text-anchor="end" font-family="'Liberation Sans', sans-serif" transform="translate(31.2 86.8) scale(0.95 1.1)">6</text>
<text font-size="13" text-anchor="end" font-family="'Liberation Sans', sans-serif" transform="translate(31.2 54.7) scale(0.95 1.1)">8</text>
<text font-size="13" text-anchor="end" font-family="'Liberation Sans', sans-serif" transform="translate(31.2 22.6) scale(0.95 1.1)">10</text>
<text font-size="14.3" text-anchor="middle" font-family="'Liberation Sans', sans-serif" transform="translate(183.4 197.5)">Minority conc X[H]</text>
<text font-size="14.45" text-anchor="middle" font-family="'Liberation Sans', sans-serif" transform="translate(11.2 90.2) rotate(-90) scale(1.0 0.96)">Minority temp T[H] (keV)</text>
<text font-size="14.47" text-anchor="start" font-family="'Liberation Sans', sans-serif" transform="translate(59.2 11.6) scale(1.0 1.04)">D(H) Minority heating SPA efficiency %</text>
<text font-size="12.3" text-anchor="start" font-family="'Liberation Serif', sans-serif" transform="translate(32.8 9.0) scale(1.0 1.06)" stroke-width="0.1">(a)</text>
<rect x="36.0" y="241.3" width="296.6" height="146.7" fill="none" stroke="#333" stroke-width="0.45"/>
<path d="M98.4421052631579 388.0v-3M98.4421052631579 241.3v3" stroke="#333" stroke-width="0.45"/>
<path d="M176.49473684210525 388.0v-3M176.49473684210525 241.3v3" stroke="#333" stroke-width="0.45"/>
<path d="M254.54736842105265 388.0v-3M254.54736842105265 241.3v3" stroke="#333" stroke-width="0.45"/>
<path d="M332.6 388.0v-3M332.6 241.3v3" stroke="#333" stroke-width="0.45"/>
<path d="M36.0 371.7h3M332.6 371.7h-3" stroke="#333" stroke-width="0.45"/>
<path d="M36.0 339.1h3M332.6 339.1h-3" stroke="#333" stroke-width="0.45"/>
<path d="M36.0 306.5h3M332.6 306.5h-3" stroke="#333" stroke-width="0.45"/>
<path d="M36.0 273.90000000000003h3M332.6 273.90000000000003h-3" stroke="#333" stroke-width="0.45"/>
<path d="M36.0 241.3h3M332.6 241.3h-3" stroke="#333" stroke-width="0.45"/>
<text font-size="13" text-anchor="middle" font-family="'Liberation Sans', sans-serif" transform="translate(98.4 408.1) scale(1.0 1.19)">5</text>
<text font-size="13" text-anchor="middle" font-family="'Liberation Sans', sans-serif" transform="translate(176.5 408.1) scale(1.0 1.19)">10</text>
<text font-size="13" text-anchor="middle" font-family="'Liberation Sans', sans-serif" transform="translate(254.5 408.1) scale(1.0 1.19)">15</text>
<text font-size="13" text-anchor="middle" font-family="'Liberation Sans', sans-serif" transform="translate(332.6 408.1) scale(1.0 1.19)">20</text>
<text font-size="13" text-anchor="end" font-family="'Liberation Sans', sans-serif" transform="translate(32.4 377.8) scale(1.0 1.15)">2</text>
<text font-size="13" text-anchor="end" font-family="'Liberation Sans', sans-serif" transform="translate(32.4 345.2) scale(1.0 1.15)">4</text>
<text font-size="13" text-anchor="end" font-family="'Liberation Sans', sans-serif" transform="translate(32.4 312.6) scale(1.0 1.15)">6</text>
<text font-size="13" text-anchor="end" font-family="'Liberation Sans', sans-serif" transform="translate(32.4 280.0) scale(1.0 1.15)">8</text>
<text font-size="13" text-anchor="end" font-family="'Liberation Sans', sans-serif" transform="translate(32.4 247.4) scale(1.0 1.15)">10</text>
<text font-size="14.3" text-anchor="middle" font-family="'Liberation Sans', sans-serif" transform="translate(13.2 314.5) rotate(-90) scale(1.127 1.0)">Minority temp T[H] (keV)</text>
<text font-size="14.6" text-anchor="start" font-family="'Liberation Sans', sans-serif" transform="translate(59.2 234.8) scale(1.0 1.06)">D(H) Minority heating SPA efficiency %</text>
<text font-size="13.0" text-anchor="start" font-family="'Liberation Serif', sans-serif" transform="translate(37.4 233.3) scale(1.0 1.1)" stroke-width="0.1">(b)</text>
<text font-size="14.3" font-family="'Liberation Sans', sans-serif" transform="translate(0 422.2) scale(1 1.13)"><tspan x="155.6" y="0">k</tspan><tspan x="162.6" y="6.6" font-size="10.5" font-style="italic">//</tspan><tspan x="173.2" y="0">(m</tspan><tspan x="190.2" y="-5.0" font-size="10.6">-1</tspan><tspan x="200.0" y="0">)</tspan></text>
<text x="108.8" y="34.8" font-size="9.0" text-anchor="middle" dominant-baseline="central" stroke-width="0.4" font-family="'Liberation Sans', sans-serif" transform="rotate(-55 108.8 34.8)">0.9</text>
<text x="151" y="33.6" font-size="9.0" text-anchor="middle" dominant-baseline="central" stroke-width="0.4" font-family="'Liberation Sans', sans-serif" transform="rotate(-55 151 33.6)">0.85</text>
<text x="193.4" y="32.9" font-size="9.0" text-anchor="middle" dominant-baseline="central" stroke-width="0.4" font-family="'Liberation Sans', sans-serif" transform="rotate(-55 193.4 32.9)">0.8</text>
<text x="232.9" y="36" font-size="9.0" text-anchor="middle" dominant-baseline="central" stroke-width="0.4" font-family="'Liberation Sans', sans-serif" transform="rotate(-55 232.9 36)">0.75</text>
<text x="282.4" y="37.1" font-size="9.0" text-anchor="middle" dominant-baseline="central" stroke-width="0.4" font-family="'Liberation Sans', sans-serif" transform="rotate(-50 282.4 37.1)">0.7</text>
<text x="319.4" y="58" font-size="9.0" text-anchor="middle" dominant-baseline="central" stroke-width="0.4" font-family="'Liberation Sans', sans-serif" transform="rotate(-47 319.4 58)">0.65</text>
<text x="106.9" y="93.5" font-size="9.0" text-anchor="middle" dominant-baseline="central" stroke-width="0.4" font-family="'Liberation Sans', sans-serif" transform="rotate(-42 106.9 93.5)">0.85</text>
<text x="144" y="91.5" font-size="9.0" text-anchor="middle" dominant-baseline="central" stroke-width="0.4" font-family="'Liberation Sans', sans-serif" transform="rotate(-38 144 91.5)">0.8</text>
<text x="182" y="93.1" font-size="9.0" text-anchor="middle" dominant-baseline="central" stroke-width="0.4" font-family="'Liberation Sans', sans-serif" transform="rotate(-38 182 93.1)">0.75</text>
<text x="231.5" y="91.5" font-size="9.0" text-anchor="middle" dominant-baseline="central" stroke-width="0.4" font-family="'Liberation Sans', sans-serif" transform="rotate(-35 231.5 91.5)">0.7</text>
<text x="266.6" y="110.0" font-size="9.0" text-anchor="middle" dominant-baseline="central" stroke-width="0.4" font-family="'Liberation Sans', sans-serif" transform="rotate(-38 266.6 110.0)">0.65</text>
<text x="313.3" y="127.3" font-size="9.0" text-anchor="middle" dominant-baseline="central" stroke-width="0.4" font-family="'Liberation Sans', sans-serif" transform="rotate(-40 313.3 127.3)">0.6</text>
<text x="87.8" y="139.4" font-size="9.0" text-anchor="middle" dominant-baseline="central" stroke-width="0.4" font-family="'Liberation Sans', sans-serif" transform="rotate(-30 87.8 139.4)">0.8</text>
<text x="122.1" y="139.4" font-size="9.0" text-anchor="middle" dominant-baseline="central" stroke-width="0.4" font-family="'Liberation Sans', sans-serif" transform="rotate(-27 122.1 139.4)">0.75</text>
<text x="168.4" y="137.1" font-size="9.0" text-anchor="middle" dominant-baseline="central" stroke-width="0.4" font-family="'Liberation Sans', sans-serif" transform="rotate(-22 168.4 137.1)">0.7</text>
<text x="202.2" y="150.4" font-size="9.0" text-anchor="middle" dominant-baseline="central" stroke-width="0.4" font-family="'Liberation Sans', sans-serif" transform="rotate(-22 202.2 150.4)">0.65</text>
<text x="49.5" y="45.5" font-size="9.0" text-anchor="middle" dominant-baseline="central" stroke-width="0.4" font-family="'Liberation Sans', sans-serif" transform="rotate(84 49.5 45.5)">0.85</text>
<text x="63.7" y="56" font-size="9.0" text-anchor="middle" dominant-baseline="central" stroke-width="0.4" font-family="'Liberation Sans', sans-serif" transform="rotate(82 63.7 56)">0.9</text>
<text x="44.3" y="53" font-size="9.0" text-anchor="middle" dominant-baseline="central" stroke-width="0.4" font-family="'Liberation Sans', sans-serif" transform="rotate(80 44.3 53)">0.8</text>
<text x="38.5" y="62" font-size="9.0" text-anchor="middle" dominant-baseline="central" stroke-width="0.4" font-family="'Liberation Sans', sans-serif" transform="rotate(80 38.5 62)">0.7</text>
<text x="53.4" y="120.4" font-size="9.0" text-anchor="middle" dominant-baseline="central" stroke-width="0.4" font-family="'Liberation Sans', sans-serif" transform="rotate(70 53.4 120.4)">0.85</text>
<text x="44.9" y="128.4" font-size="9.0" text-anchor="middle" dominant-baseline="central" stroke-width="0.4" font-family="'Liberation Sans', sans-serif" transform="rotate(76 44.9 128.4)">0.8</text>
<text x="39.0" y="139.0" font-size="9.0" text-anchor="middle" dominant-baseline="central" stroke-width="0.4" font-family="'Liberation Sans', sans-serif" transform="rotate(78 39.0 139.0)">0.75</text>
<text x="36.4" y="139.0" font-size="9.0" text-anchor="middle" dominant-baseline="central" stroke-width="0.4" font-family="'Liberation Sans', sans-serif" transform="rotate(80 36.4 139.0)">0.7</text>
<text x="146.5" y="279.2" font-size="9.0" text-anchor="middle" dominant-baseline="central" stroke-width="0.4" font-family="'Liberation Sans', sans-serif" transform="rotate(65 146.5 279.2)">0.9</text>
<text x="43.3" y="282.3" font-size="9.0" text-anchor="middle" dominant-baseline="central" stroke-width="0.4" font-family="'Liberation Sans', sans-serif" transform="rotate(85 43.3 282.3)">0.3</text>
<text x="52.0" y="282.8" font-size="9.0" text-anchor="middle" dominant-baseline="central" stroke-width="0.4" font-family="'Liberation Sans', sans-serif" transform="rotate(85 52.0 282.8)">0.4</text>
<text x="62.9" y="284.8" font-size="9.0" text-anchor="middle" dominant-baseline="central" stroke-width="0.4" font-family="'Liberation Sans', sans-serif" transform="rotate(82 62.9 284.8)">0.5</text>
<text x="75.0" y="287.3" font-size="9.0" text-anchor="middle" dominant-baseline="central" stroke-width="0.4" font-family="'Liberation Sans', sans-serif" transform="rotate(80 75.0 287.3)">0.6</text>
<text x="91.1" y="296.3" font-size="9.0" text-anchor="middle" dominant-baseline="central" stroke-width="0.4" font-family="'Liberation Sans', sans-serif" transform="rotate(75 91.1 296.3)">0.7</text>
<text x="118.1" y="310.6" font-size="9.0" text-anchor="middle" dominant-baseline="central" stroke-width="0.4" font-family="'Liberation Sans', sans-serif" transform="rotate(62 118.1 310.6)">0.8</text>
<text x="139" y="321.4" font-size="9.0" text-anchor="middle" dominant-baseline="central" stroke-width="0.4" font-family="'Liberation Sans', sans-serif" transform="rotate(58 139 321.4)">0.85</text>
<text x="36.8" y="362.9" font-size="9.0" text-anchor="middle" dominant-baseline="central" stroke-width="0.4" font-family="'Liberation Sans', sans-serif" transform="rotate(88 36.8 362.9)">0.2</text>
<text x="47.1" y="366.6" font-size="9.0" text-anchor="middle" dominant-baseline="central" stroke-width="0.4" font-family="'Liberation Sans', sans-serif" transform="rotate(85 47.1 366.6)">0.3</text>
<text x="59.2" y="367.1" font-size="9.0" text-anchor="middle" dominant-baseline="central" stroke-width="0.4" font-family="'Liberation Sans', sans-serif" transform="rotate(83 59.2 367.1)">0.4</text>
<text x="74.2" y="367.9" font-size="9.0" text-anchor="middle" dominant-baseline="central" stroke-width="0.4" font-family="'Liberation Sans', sans-serif" transform="rotate(75 74.2 367.9)">0.5</text>
<text x="93.6" y="369.1" font-size="9.0" text-anchor="middle" dominant-baseline="central" stroke-width="0.4" font-family="'Liberation Sans', sans-serif" transform="rotate(65 93.6 369.1)">0.6</text>
<text x="120.6" y="372.2" font-size="9.0" text-anchor="middle" dominant-baseline="central" stroke-width="0.4" font-family="'Liberation Sans', sans-serif" transform="rotate(50 120.6 372.2)">0.7</text>
<text x="162.4" y="377.4" font-size="9.0" text-anchor="middle" dominant-baseline="central" stroke-width="0.4" font-family="'Liberation Sans', sans-serif" transform="rotate(35 162.4 377.4)">0.8</text>
<text x="192.6" y="377.8" font-size="9.0" text-anchor="middle" dominant-baseline="central" stroke-width="0.4" font-family="'Liberation Sans', sans-serif" transform="rotate(25 192.6 377.8)">0.85</text>
<text x="188.9" y="350.1" font-size="9.0" text-anchor="middle" dominant-baseline="central" stroke-width="0.4" font-family="'Liberation Sans', sans-serif" transform="rotate(40 188.9 350.1)">0.9</text>
<text x="257" y="384.6" font-size="9.0" text-anchor="middle" dominant-baseline="central" stroke-width="0.4" font-family="'Liberation Sans', sans-serif" transform="rotate(12 257 384.6)">0.9</text>
<path d="M48.6 80.0L52.0 84.6M48.6 84.6L52.0 80.0" stroke="#5b2a78" stroke-opacity="0.55" stroke-width="2.1" fill="none"/>
<path d="M48.6 80.0L52.0 84.6M48.6 84.6L52.0 80.0" stroke="#e01235" stroke-width="1.15" fill="none"/>
<path d="M112.7 80.0L116.1 84.6M112.7 84.6L116.1 80.0" stroke="#5b2a78" stroke-opacity="0.55" stroke-width="2.1" fill="none"/>
<path d="M112.7 80.0L116.1 84.6M112.7 84.6L116.1 80.0" stroke="#e01235" stroke-width="1.15" fill="none"/>
<path d="M129.7 302.0L133.1 306.6M129.7 306.6L133.1 302.0" stroke="#5b2a78" stroke-opacity="0.55" stroke-width="2.1" fill="none"/>
<path d="M129.7 302.0L133.1 306.6M129.7 306.6L133.1 302.0" stroke="#e01235" stroke-width="1.15" fill="none"/>
<path d="M50.3 82.3H114.4" stroke="#111" stroke-width="0.9" stroke-dasharray="1.6 1.0" fill="none"/>
</svg>
</body></html>
